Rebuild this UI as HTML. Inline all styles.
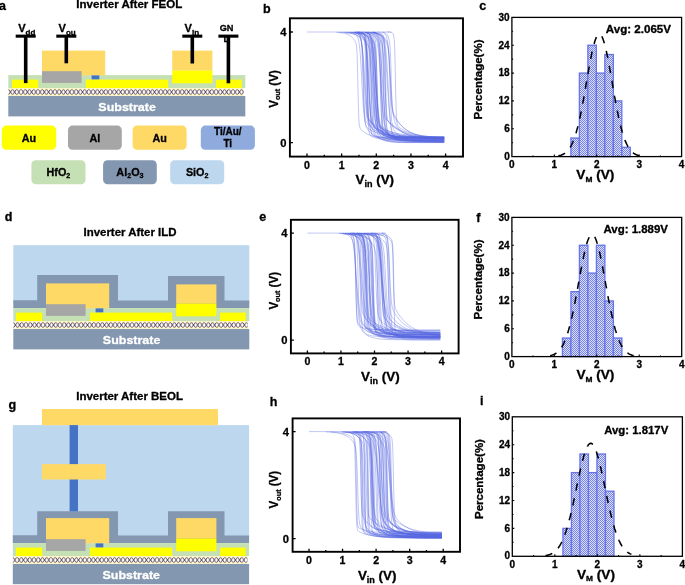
<!DOCTYPE html>
<html lang="en">
<head>
<meta charset="utf-8">
<title>Inverter after FEOL, ILD and BEOL</title>
<style>
html,body{margin:0;padding:0;background:#fff;}
body{width:685px;height:585px;overflow:hidden;}
svg{display:block;}
</style>
</head>
<body>
<svg width="685" height="585" viewBox="0 0 685 585" font-family="'Liberation Sans', Arial, sans-serif" font-weight="bold">
<style>text{stroke:#000;stroke-width:0.3px;stroke-linejoin:round}</style>
<defs>
<pattern id="xx" width="4.24" height="8" patternUnits="userSpaceOnUse"><rect width="4.24" height="8" fill="#fff"/><rect width="4.24" height="0.9" fill="#FBF6C8"/><rect y="7.2" width="4.24" height="0.8" fill="#FBF6C8"/><path d="M0.1 0.9 L4.14 7.1 M4.14 0.9 L0.1 7.1" stroke="#D2AE3A" stroke-width="0.95" fill="none"/><path d="M0.6 1.7 L3.64 6.3 M3.64 1.7 L0.6 6.3" stroke="#3B3585" stroke-width="0.8" fill="none"/></pattern>
<pattern id="hb" width="2" height="2" patternUnits="userSpaceOnUse"><rect width="2" height="2" fill="#dde1fc"/><rect width="1" height="1" fill="#7482ea"/><rect x="1" y="1" width="1" height="1" fill="#7482ea"/></pattern>
</defs>
<rect x="0" y="0" width="685" height="585" fill="#fff"/>
<text x="-1.2" y="10.2" font-size="13">a</text>
<text x="76.3" y="8.3" font-size="10.8" textLength="106" lengthAdjust="spacingAndGlyphs">Inverter After FEOL</text>
<rect x="8.3" y="75.1" width="237" height="12.9" fill="#C5E0B4"/>
<rect x="42" y="50.6" width="63.2" height="24.7" fill="#FFD966"/>
<rect x="42" y="71.2" width="39.6" height="11.7" fill="#A6A6A6"/>
<rect x="91.6" y="75.4" width="7.7" height="4.2" fill="#4472C4"/>
<rect x="12.1" y="79.6" width="26.1" height="8.4" fill="#FFFF00"/>
<rect x="85.9" y="79.6" width="82.3" height="8.4" fill="#FFFF00"/>
<rect x="216.1" y="79.6" width="25.5" height="8.4" fill="#FFFF00"/>
<rect x="172.2" y="50.6" width="40.2" height="20.1" fill="#FFD966"/>
<rect x="172.2" y="70.6" width="40.2" height="12.7" fill="#FFFF00"/>
<g transform="translate(8.3 88)">
<rect x="0" y="0" width="235.4" height="8" fill="url(#xx)"/>
</g>
<rect x="8.3" y="96" width="237" height="20.4" fill="#8497B0"/>
<text x="127.1" y="110.6" font-size="11.6" text-anchor="middle" textLength="57.5" lengthAdjust="spacingAndGlyphs" fill="#fff" style="stroke:#fff">Substrate</text>
<text x="18.2" y="32.1" font-size="11.1">V<tspan font-size="8" dy="3">dd</tspan></text>
<rect x="15.7" y="34.6" width="20" height="3.1" fill="#000"/>
<rect x="23.9" y="36" width="3.6" height="47.1" fill="#000"/>
<text x="58.5" y="32.1" font-size="11.1">V<tspan font-size="8" dy="3">ou</tspan></text>
<rect x="56.3" y="34.6" width="20" height="3.1" fill="#000"/>
<rect x="64.5" y="36" width="3.6" height="27.3" fill="#000"/>
<text x="184.6" y="32.1" font-size="11.1">V<tspan font-size="8" dy="3">in</tspan></text>
<rect x="182.3" y="34.6" width="20" height="3.1" fill="#000"/>
<rect x="190.5" y="36" width="3.6" height="27.5" fill="#000"/>
<text x="219.7" y="31.2" font-size="9.2">GN</text>
<text x="223.5" y="42.4" font-size="9.2">D</text>
<rect x="218.4" y="34.6" width="20" height="3.1" fill="#000"/>
<rect x="226.6" y="36" width="3.6" height="47.3" fill="#000"/>
<rect x="1.8" y="125.6" width="54.4" height="24.1" fill="#FFFF00" rx="4.5"/>
<text x="29" y="141.55" font-size="10.8" text-anchor="middle">Au</text>
<rect x="68" y="125.6" width="53.8" height="24.1" fill="#A6A6A6" rx="4.5"/>
<text x="94.9" y="141.55" font-size="10.8" text-anchor="middle">Al</text>
<rect x="132.6" y="125.6" width="54" height="24.1" fill="#FFD966" rx="4.5"/>
<text x="159.6" y="141.55" font-size="10.8" text-anchor="middle">Au</text>
<rect x="200.8" y="125.6" width="54.1" height="24.1" fill="#8FAADC" rx="4.5"/>
<text x="227.8" y="134.8" font-size="10" text-anchor="middle">Ti/Au/</text>
<text x="227.8" y="146.5" font-size="10" text-anchor="middle">Ti</text>
<rect x="31.4" y="160.3" width="54.1" height="24" fill="#C5E0B4" rx="4.5"/>
<text x="58.45" y="176.2" font-size="10.8" text-anchor="middle">HfO<tspan font-size="7.2" dy="2.2">2</tspan></text>
<rect x="103.1" y="160.3" width="53.7" height="24" fill="#8497B0" rx="4.5"/>
<text x="129.95" y="176.2" font-size="10.8" text-anchor="middle">Al<tspan font-size="7.2" dy="2.2">2</tspan><tspan dy="-2.2">O</tspan><tspan font-size="7.2" dy="2.2">3</tspan></text>
<rect x="170.2" y="160.3" width="54" height="24" fill="#BDD7EE" rx="4.5"/>
<text x="197.2" y="176.2" font-size="10.8" text-anchor="middle">SiO<tspan font-size="7.2" dy="2.2">2</tspan></text>
<text x="4.8" y="221" font-size="12.5">d</text>
<text x="83.5" y="236.2" font-size="10.8" textLength="93" lengthAdjust="spacingAndGlyphs">Inverter After ILD</text>
<rect x="13.3" y="245.2" width="236" height="57.8" fill="#BDD7EE"/>
<path d="M13.3 300.3 L37.2 300.3 L37.2 275 L118 275 L118 300.4 L168 300.4 L168 276.1 L224.5 276.1 L224.5 300.4 L249.3 300.4 L249.3 308.2 L13.3 308.2Z" fill="#8497B0"/>
<rect x="13.3" y="308.1" width="236" height="12.9" fill="#C5E0B4"/>
<rect x="46" y="283.4" width="63.2" height="24.9" fill="#FFD966"/>
<rect x="46" y="304.2" width="39.6" height="11.7" fill="#A6A6A6"/>
<rect x="95.6" y="308.4" width="7.7" height="4.2" fill="#4472C4"/>
<rect x="16.1" y="312.6" width="26.1" height="8.4" fill="#FFFF00"/>
<rect x="89.9" y="312.6" width="82.3" height="8.4" fill="#FFFF00"/>
<rect x="220.1" y="312.6" width="25.5" height="8.4" fill="#FFFF00"/>
<rect x="176.2" y="284.4" width="40.2" height="19.3" fill="#FFD966"/>
<rect x="176.2" y="303.6" width="40.2" height="12.7" fill="#FFFF00"/>
<g transform="translate(13.3 321)">
<rect x="0" y="0" width="234.4" height="8" fill="url(#xx)"/>
</g>
<rect x="13.3" y="329" width="236" height="20.4" fill="#8497B0"/>
<text x="131.6" y="343.6" font-size="11.6" text-anchor="middle" textLength="57.5" lengthAdjust="spacingAndGlyphs" fill="#fff" style="stroke:#fff">Substrate</text>
<text x="8.4" y="409" font-size="12.6">g</text>
<text x="76.2" y="400.1" font-size="10.8" textLength="106.8" lengthAdjust="spacingAndGlyphs">Inverter After BEOL</text>
<rect x="12.8" y="425.1" width="236.3" height="112.9" fill="#BDD7EE"/>
<path d="M12.8 535.3 L37.2 535.3 L37.2 511.2 L118 511.2 L118 535.4 L168 535.4 L168 511.2 L224.5 511.2 L224.5 535.4 L249.1 535.4 L249.1 543.2 L12.8 543.2Z" fill="#8497B0"/>
<rect x="12.8" y="543.1" width="236.3" height="12.9" fill="#C5E0B4"/>
<rect x="46" y="518.1" width="63.2" height="25.2" fill="#FFD966"/>
<rect x="46" y="539.2" width="39.6" height="11.7" fill="#A6A6A6"/>
<rect x="95.6" y="543.4" width="7.7" height="4.2" fill="#4472C4"/>
<rect x="16.1" y="547.6" width="26.1" height="8.4" fill="#FFFF00"/>
<rect x="89.9" y="547.6" width="82.3" height="8.4" fill="#FFFF00"/>
<rect x="220.1" y="547.6" width="25.5" height="8.4" fill="#FFFF00"/>
<rect x="176.2" y="518.1" width="40.2" height="20.6" fill="#FFD966"/>
<rect x="176.2" y="538.6" width="40.2" height="12.7" fill="#FFFF00"/>
<g transform="translate(12.8 556)">
<rect x="0" y="0" width="234.7" height="8" fill="url(#xx)"/>
</g>
<rect x="12.8" y="564" width="236.3" height="20.2" fill="#8497B0"/>
<text x="131.25" y="578.6" font-size="11.6" text-anchor="middle" textLength="57.5" lengthAdjust="spacingAndGlyphs" fill="#fff" style="stroke:#fff">Substrate</text>
<rect x="42" y="409" width="176" height="16.2" fill="#FFD966"/>
<rect x="69.6" y="425.1" width="8.4" height="86.2" fill="#4472C4"/>
<rect x="41.9" y="464.1" width="63.9" height="15.4" fill="#FFD966"/>
<path fill="none" stroke="#5566E0" stroke-width="0.37" d="M336.3 32.3l2 .2l2.1 .2l2.1 .3l2.1 .4l2.1 .6l2 .9l.6 .3l.4 .3l.4 .3l.5 .2l.4 .4l.4 .3l.5 .4l.4 .4l.4 .4l.5 .5l.4 .5l.4 .5l.5 .6l.4 .7l.4 .8l.5 1l.4 1.6l.4 3l.5 6.5l.4 13l.4 19.8l.5 19.4l.4 12.4l.4 6l.5 2.7l.4 1.2l.4 .8l.5 .5l.4 .4l.4 .4l.5 .4l.4 .4l.4 .3l.5 .4l.4 .3l.4 .3l.5 .3l.4 .2l.4 .3l.5 .3l.4 .2l.4 .3l1.8 .8l1.7 .7l1.7 .6l1.8 .6l1.7 .4l1.7 .4l1.8 .3l1.7 .3l1.7 .2l1.8 .2l1.7 .1l1.7 .2l1.8 .1l1.7 .1l1.7 .1l8.7 .2l8.6 .2l8.7 0l8.7 0l8.6 0l7.9 0M350.1 32.3l2.1 .4l1.2 .3l.4 .2l.4 .2l.5 .2l.4 .3l.4 .3l.5 .4l.4 .5l.4 .6l.5 .8l.4 1l.4 1.4l.5 1.7l.4 2.3l.4 2.9l.5 3.9l.4 5l.4 6.3l.5 7.3l.4 8.3l.4 8.6l.5 7.7l.4 7.3l.4 6.4l.5 5.4l.4 4.2l.4 3.3l.5 2.6l.4 2l.4 1.5l.5 1.2l.4 1l.4 .8l.5 .8l.4 .6l.4 .6l.5 .5l.4 .5l.4 .4l.5 .5l.4 .4l.4 .3l1.8 1.4l1.7 1.2l1.7 1l1.8 .8l1.7 .8l1.7 .6l1.8 .5l1.7 .4l1.7 .4l1.8 .3l1.7 .3l1.7 .2l1.8 .2l1.7 .2l1.7 .2l8.7 .4l8.6 .2l8.7 .1l8.7 0l8.6 .1l3.8 0M354.4 32.0l.4 0l.5 0l.4 0l.4 0l.5 .1l.4 0l.4 0l.5 .1l.4 .1l.4 .2l.5 .2l.4 .5l.4 .8l.5 1.4l.4 2.3l.4 3.8l.5 6.2l.4 9.1l.4 12.3l.5 14.1l.4 12.5l.4 10.7l.5 7.8l.4 5.2l.4 3.3l.5 2l.4 1.3l.4 .9l.5 .6l.4 .4l.4 .4l.5 .3l.4 .3l.4 .3l.5 .3l.4 .2l.4 .2l.5 .3l.4 .2l.4 .2l.5 .2l1.7 .7l1.7 .7l1.8 .6l1.7 .5l1.7 .4l1.8 .4l1.7 .3l1.7 .3l1.8 .3l1.7 .2l1.7 .2l1.8 .2l1.7 .1l1.7 .1l1.8 .2l8.6 .3l8.7 .2l8.6 .1l8.7 .1l8.7 0l2.7 0M343.5 32.3l2.1 .2l2 .2l2.1 .3l2.1 .4l2.1 .7l.9 .3l.4 .2l.5 .2l.4 .3l.4 .2l.5 .3l.4 .2l.4 .3l.5 .4l.4 .3l.4 .4l.5 .4l.4 .5l.4 .6l.5 .7l.4 1.1l.4 1.8l.5 3.5l.4 6.7l.4 11.8l.5 16.2l.4 16.2l.4 11.7l.5 6.7l.4 3.4l.4 1.9l.5 1.1l.4 .8l.4 .6l.5 .6l.4 .5l.4 .5l.5 .5l.4 .5l.4 .4l.5 .4l.4 .4l.4 .4l.5 .4l.4 .4l.4 .3l.5 .4l1.7 1.2l1.7 1l1.7 .9l1.8 .8l1.7 .7l1.7 .5l1.8 .5l1.7 .4l1.7 .4l1.8 .3l1.7 .3l1.7 .2l1.8 .2l1.7 .2l1.7 .1l8.7 .5l8.7 .2l8.6 .1l8.7 0l8.7 .1l2.3 0M353.8 32.3l1.9 .4l.5 .1l.4 .1l.4 .2l.5 .2l.4 .3l.4 .3l.5 .4l.4 .5l.4 .6l.5 .9l.4 1.1l.4 1.5l.5 2.1l.4 2.7l.4 3.7l.4 4.9l.5 6.1l.4 7.4l.4 8.5l.5 8.8l.4 8.1l.4 7.4l.5 6.5l.4 5.2l.4 4l.5 3l.4 2.3l.4 1.6l.5 1.2l.4 .9l.4 .7l.5 .6l.4 .4l.4 .4l.5 .4l.4 .3l.4 .3l.5 .3l.4 .2l.4 .3l.5 .2l1.7 .9l1.7 .8l1.8 .8l1.7 .6l1.7 .7l1.8 .5l1.7 .6l1.7 .4l1.8 .5l1.7 .4l1.7 .4l1.8 .3l1.7 .3l1.7 .3l1.8 .3l8.6 1l8.7 .6l8.7 .4l8.6 .3l8.7 .2l1.4 0M356.8 33.0l.5 .3l.4 .3l.4 .4l.5 .5l.4 .7l.4 .8l.5 1l.4 1.2l.4 1.5l.5 1.9l.4 2.3l.4 2.7l.5 3.3l.4 3.9l.4 4.5l.5 5.2l.4 5.9l.4 6.5l.5 7.1l.4 7.6l.4 5l.5 4.9l.4 4.7l.4 4.4l.5 4l.4 3.6l.4 3.1l.5 2.7l.4 2.4l.4 2l.5 1.6l.4 1.4l.4 1.2l.5 1l.4 .8l.4 .7l.5 .5l.4 .5l.4 .4l.5 .3l.4 .3l1.7 .8l1.8 .4l1.7 .3l1.7 .2l1.8 .1l1.7 .1l1.7 .1l1.8 .1l1.7 0l1.7 0l1.8 .1l1.7 0l1.7 0l1.8 0l1.7 0l8.6 .1l8.7 0l8.7 0l8.6 0l8.7 0l.3 0M357.1 32.0l.4 0l.5 0l.4 0l.4 0l.5 0l.4 .1l.4 0l.5 0l.4 .1l.4 .1l.5 .1l.4 .1l.4 .2l.5 .4l.4 .5l.4 .8l.5 1.9l.4 4.8l.4 12.6l.5 23.4l.4 22.3l.4 11.6l.5 4.4l.4 1.8l.4 1.1l.5 .7l.4 .8l.4 .6l.5 .7l.4 .6l.4 .6l.5 .6l.4 .5l.4 .6l.5 .5l.4 .5l.4 .5l.5 .4l.4 .5l.4 .4l.5 .4l1.7 1.5l1.7 1.4l1.8 1.1l1.7 1l1.7 .8l1.8 .7l1.7 .6l1.7 .6l1.8 .5l1.7 .4l1.7 .3l1.8 .3l1.7 .3l1.7 .2l1.7 .2l8.7 .6l8.7 .3l8.6 .2l8.7 0l8.7 .1M358.0 32.0l.4 .1l.5 0l.4 0l.4 0l.5 .1l.4 0l.4 .1l.5 .1l.4 .1l.4 .2l.5 .2l.4 .3l.4 .4l.5 .5l.4 .7l.4 1.2l.5 2.3l.4 5.2l.4 13.1l.5 23.9l.4 22.2l.4 11.2l.5 4l.4 1.4l.4 .7l.5 .4l.4 .4l.4 .4l.5 .4l.4 .3l.4 .4l.5 .3l.4 .3l.4 .3l.5 .4l.4 .3l.4 .3l.5 .3l.4 .2l.4 .3l.5 .3l1.7 1l1.7 1l1.8 .8l1.7 .8l1.7 .7l1.8 .7l1.7 .6l1.7 .6l1.8 .5l1.7 .4l1.7 .4l1.7 .4l1.8 .4l1.7 .3l1.7 .3l8.7 1.1l8.7 .8l8.6 .4l8.7 .3l7.8 .2M351.6 32.3l2.1 .2l2.1 .3l2.1 .5l.7 .3l.5 .1l.4 .2l.4 .2l.5 .2l.4 .3l.4 .2l.5 .3l.4 .3l.4 .4l.5 .3l.4 .5l.4 .4l.5 .5l.4 .6l.4 .7l.5 .9l.4 1.7l.4 4.2l.5 11.5l.4 22.6l.4 22.3l.5 11.3l.4 4.1l.4 1.5l.5 .9l.4 .7l.4 .6l.5 .6l.4 .5l.4 .6l.5 .5l.4 .5l.4 .5l.5 .4l.4 .5l.4 .4l.5 .4l.4 .4l.4 .4l.5 .4l.4 .4l1.7 1.3l1.8 1.2l1.7 1.1l1.7 .9l1.8 .8l1.7 .7l1.7 .6l1.8 .5l1.7 .5l1.7 .4l1.8 .3l1.7 .4l1.7 .2l1.8 .3l1.7 .2l8.7 .7l8.6 .3l8.7 .2l8.6 .1l7.2 .1M354.8 32.3l2.1 .3l1.9 .5l.4 .1l.5 .2l.4 .2l.4 .2l.5 .3l.4 .3l.4 .3l.5 .3l.4 .5l.4 .4l.5 .6l.4 .6l.4 .8l.5 .9l.4 1.3l.4 2.1l.5 3.8l.4 7.6l.4 14.4l.5 21.2l.4 20.3l.4 13.4l.5 6.7l.4 3l.4 1.4l.5 .8l.4 .5l.4 .4l.4 .3l.5 .3l.4 .3l.4 .2l.5 .2l.4 .2l.4 .2l.5 .2l.4 .1l.4 .2l.5 .1l.4 .1l.4 .1l1.8 .4l1.7 .3l1.7 .2l1.8 .1l1.7 .1l1.7 0l1.8 .1l1.7 0l1.7 .1l1.8 0l1.7 0l1.7 0l1.8 0l1.7 0l1.7 0l8.7 0l8.7 0l8.6 0l8.7 0l7 0M355.9 32.3l2.1 .4l1.1 .3l.4 .2l.4 .2l.5 .2l.4 .2l.4 .3l.5 .4l.4 .4l.4 .5l.5 .6l.4 .6l.4 .8l.5 .9l.4 1l.4 1.3l.5 1.6l.4 2.1l.4 3.6l.5 6.6l.4 13.1l.4 19.8l.5 18.2l.4 11.1l.4 5l.5 2.3l.4 1.2l.4 .8l.5 .7l.4 .7l.4 .6l.5 .5l.4 .6l.4 .5l.5 .5l.4 .5l.4 .5l.5 .4l.4 .4l.4 .4l.5 .4l.4 .4l.4 .3l1.8 1.3l1.7 1.1l1.7 .9l1.7 .8l1.8 .6l1.7 .6l1.7 .4l1.8 .4l1.7 .4l1.7 .2l1.8 .3l1.7 .2l1.7 .1l1.8 .2l1.7 .1l8.7 .3l8.6 .2l8.7 .1l8.7 0l6.7 0M350.3 32.3l2.1 .2l2.1 .3l2.1 .5l2 .7l1.4 .7l.4 .3l.5 .3l.4 .3l.4 .3l.5 .4l.4 .5l.4 .5l.5 .5l.4 .6l.4 .7l.5 .9l.4 1l.4 1.4l.5 1.8l.4 2.6l.4 3.8l.5 5.3l.4 7.5l.4 9.5l.5 10.7l.4 10.2l.4 9l.5 6.9l.4 5l.4 3.3l.5 2.3l.4 1.7l.4 1.2l.5 .9l.4 .8l.4 .8l.5 .6l.4 .6l.4 .6l.5 .5l.4 .5l.4 .5l.5 .5l.4 .4l.4 .5l.5 .4l1.7 1.5l1.7 1.3l1.8 1.1l1.7 1l1.7 .8l1.8 .7l1.7 .6l1.7 .5l1.8 .4l1.7 .4l1.7 .3l1.8 .3l1.7 .2l1.7 .2l1.8 .2l8.6 .5l8.7 .3l8.6 .1l8.7 0l5.8 .1M346.1 32.3l2.1 .2l2.1 .1l2.1 .3l2.1 .3l2 .5l2.1 .7l1.6 .7l.4 .3l.4 .3l.5 .3l.4 .4l.4 .5l.4 .6l.5 .7l.4 .9l.4 1.1l.5 1.4l.4 1.7l.4 2.2l.5 2.8l.4 3.4l.4 4.2l.5 5.1l.4 5.9l.4 6.6l.5 7.2l.4 7.5l.4 7.2l.5 6.9l.4 6.3l.4 5.6l.5 4.6l.4 3.9l.4 3.1l.5 2.4l.4 1.9l.4 1.5l.5 1.1l.4 .9l.4 .7l.5 .5l.4 .4l.4 .3l.5 .3l.4 .2l.4 .1l.5 .2l.4 .1l1.7 .4l1.8 .2l1.7 .1l1.7 .2l1.8 0l1.7 .1l1.7 .1l1.8 0l1.7 0l1.7 0l1.8 .1l1.7 0l1.7 0l1.8 0l1.7 0l8.7 0l8.6 0l8.7 0l8.6 0l5.7 0M360.2 32.3l.4 0l.4 .1l.5 .1l.4 .1l.4 .1l.5 .1l.4 .2l.4 .3l.5 .4l.4 .5l.4 .7l.5 1.1l.4 1.4l.4 2.2l.5 3.1l.4 4.3l.4 6l.5 7.7l.4 9.2l.4 10l.5 9.7l.4 8.9l.4 7.4l.5 5.8l.4 4.3l.4 3.1l.5 2.3l.4 1.7l.4 1.3l.5 1l.4 .9l.4 .7l.5 .6l.4 .6l.4 .5l.5 .5l.4 .5l.4 .4l.5 .5l.4 .4l.4 .3l1.8 1.4l1.7 1.2l1.7 1l1.8 .9l1.7 .7l1.7 .6l1.8 .6l1.7 .4l1.7 .4l1.8 .3l1.7 .3l1.7 .2l1.8 .2l1.7 .2l1.7 .2l8.7 .4l8.7 .2l8.6 .1l8.7 .1l5.6 0M361.3 32.0l.5 0l.4 0l.4 0l.5 0l.4 .1l.4 0l.5 0l.4 .1l.4 .1l.5 .1l.4 .2l.4 .3l.5 .4l.4 .6l.4 1.1l.5 1.8l.4 3.4l.4 7.7l.4 17.1l.5 28.5l.4 23.3l.4 12.1l.5 4.2l.4 1.4l.4 .5l.5 .2l.4 .2l.4 .2l.5 .1l.4 .1l.4 .1l.5 .2l.4 .1l.4 .1l.5 .1l.4 .1l.4 .1l.5 .1l.4 0l.4 .1l.5 .1l1.7 .3l1.7 .2l1.8 .3l1.7 .1l1.7 .2l1.8 .1l1.7 .1l1.7 .1l1.8 .1l1.7 .1l1.7 0l1.8 .1l1.7 0l1.7 0l1.8 .1l8.6 0l8.7 .1l8.7 0l8.6 0l4.5 0M356.5 32.3l2.1 .3l2.1 .4l1.8 .6l.4 .2l.5 .2l.4 .2l.4 .3l.5 .3l.4 .3l.4 .4l.5 .4l.4 .5l.4 .5l.5 .6l.4 .7l.4 .8l.5 .9l.4 1.2l.4 1.7l.5 3.2l.4 6.5l.4 12.6l.5 19.1l.4 18.4l.4 11.8l.5 5.7l.4 2.5l.4 1.3l.5 .8l.4 .6l.4 .5l.5 .5l.4 .5l.4 .4l.5 .4l.4 .5l.4 .4l.5 .3l.4 .4l.4 .4l.5 .3l.4 .3l.4 .3l1.8 1.2l1.7 1l1.7 .8l1.7 .8l1.8 .6l1.7 .5l1.7 .5l1.8 .4l1.7 .3l1.7 .3l1.8 .2l1.7 .2l1.7 .2l1.8 .2l1.7 .1l1.7 .1l8.7 .4l8.7 .2l8.6 .1l8.7 0l2 0M339.1 32.3l2 .1l2.1 .2l2.1 .1l2.1 .3l2 .3l2.1 .3l2.1 .5l2.1 .7l2.1 .8l2 1.1l2.1 1.5l.7 .5l.4 .4l.4 .4l.5 .4l.4 .4l.4 .5l.5 .5l.4 .5l.4 .6l.5 .6l.4 .6l.4 .7l.5 .7l.4 .8l.4 .8l.5 1.1l.4 1.7l.4 2.9l.5 5.9l.4 11.3l.4 16.9l.5 16.8l.4 11.1l.4 5.7l.5 2.7l.4 1.5l.4 .9l.5 .8l.4 .6l.4 .7l.5 .5l.4 .6l.4 .5l.5 .5l.4 .5l.4 .4l.5 .5l.4 .4l.4 .4l.5 .4l.4 .3l1.7 1.4l1.8 1.1l1.7 .9l1.7 .8l1.8 .6l1.7 .6l1.7 .4l1.8 .4l1.7 .3l1.7 .3l1.7 .2l1.8 .2l1.7 .2l1.7 .1l1.8 .1l1.7 .1l8.7 .3l8.6 .1l8.7 .1l8.7 0l1.9 0M356.7 32.3l2.1 .3l2.1 .4l2 .8l.2 .1l.5 .3l.4 .3l.4 .4l.5 .5l.4 .5l.4 .6l.5 .8l.4 1l.4 1.2l.4 1.5l.5 1.8l.4 2.3l.4 2.7l.5 3.4l.4 4.1l.4 4.7l.5 5.4l.4 6l.4 6.4l.5 6.5l.4 6l.4 5.9l.5 5.5l.4 4.9l.4 4.3l.5 3.7l.4 3l.4 2.5l.5 2.1l.4 1.7l.4 1.4l.5 1.2l.4 .9l.4 .9l.5 .7l.4 .6l.4 .5l.5 .5l.4 .4l.4 .4l1.8 1.2l1.7 1l1.7 .7l1.8 .6l1.7 .4l1.7 .4l1.8 .3l1.7 .3l1.7 .1l1.8 .2l1.7 .1l1.7 .1l1.8 .1l1.7 .1l1.7 0l1.8 0l8.6 .1l8.7 .1l8.7 0l8.6 0l1.4 0M357.3 32.3l2.1 .3l2 .4l2.1 .7l.7 .3l.4 .2l.4 .2l.5 .3l.4 .4l.4 .3l.5 .4l.4 .5l.4 .5l.5 .6l.4 .6l.4 .7l.5 .8l.4 1l.4 1.2l.5 1.6l.4 2.4l.4 4.2l.5 7.7l.4 13.6l.4 18.8l.5 18.1l.4 12.6l.4 6.9l.4 3.5l.5 1.8l.4 1l.4 .8l.5 .6l.4 .5l.4 .5l.5 .4l.4 .4l.4 .4l.5 .4l.4 .3l.4 .3l.5 .3l.4 .2l.4 .3l.5 .2l1.7 .8l1.7 .5l1.8 .5l1.7 .3l1.7 .2l1.8 .2l1.7 .1l1.7 .1l1.8 .1l1.7 .1l1.7 0l1.8 0l1.7 .1l1.7 0l1.8 0l1.7 0l8.7 0l8.6 0l8.7 0l8.6 0l.4 0M358.6 32.3l2.1 .2l2.1 .4l1.6 .5l.4 .2l.5 .2l.4 .3l.4 .3l.5 .5l.4 .5l.4 .7l.5 .8l.4 1.1l.4 1.4l.5 1.8l.4 2.3l.4 2.8l.5 3.5l.4 4.2l.4 5.1l.5 5.9l.4 6.6l.4 7.2l.5 7.4l.4 7.3l.4 7.2l.5 6.6l.4 5.9l.4 5.1l.5 4.2l.4 3.5l.4 2.9l.4 2.3l.5 1.7l.4 1.5l.4 1.1l.5 .9l.4 .7l.4 .5l.5 .5l.4 .4l.4 .3l.5 .2l.4 .2l1.7 .6l1.8 .4l1.7 .2l1.7 .2l1.8 .1l1.7 .1l1.7 .1l1.8 0l1.7 .1l1.7 0l1.8 0l1.7 0l1.7 0l1.8 0l1.7 0l1.7 0l8.7 0l8.7 0l8.6 0l8.7 0l.1 0M354.0 32.3l2 .2l2.1 .3l2.1 .3l2.1 .6l2.1 .9l.8 .5l.4 .2l.5 .3l.4 .4l.4 .3l.5 .4l.4 .4l.4 .5l.5 .5l.4 .5l.4 .6l.5 .7l.4 .7l.4 .9l.5 1l.4 1.3l.4 2.1l.5 3.7l.4 6.9l.4 12.3l.5 17.2l.4 16.6l.4 11.6l.5 6.2l.4 3l.4 1.6l.5 .9l.4 .7l.4 .5l.4 .5l.5 .4l.4 .5l.4 .4l.5 .4l.4 .4l.4 .3l.5 .4l.4 .3l.4 .4l.5 .3l.4 .3l1.7 1.2l1.8 1.1l1.7 .9l1.7 .8l1.8 .7l1.7 .6l1.7 .6l1.8 .4l1.7 .5l1.7 .3l1.8 .4l1.7 .3l1.7 .2l1.8 .2l1.7 .2l1.7 .2l8.7 .6l8.7 .3l8.6 .2l8 .1M365.4 32.2l.4 .1l.5 .1l.4 .1l.4 .2l.5 .3l.4 .3l.4 .5l.5 .6l.4 .9l.4 1.2l.5 1.5l.4 2l.4 2.6l.5 3.3l.4 4.2l.4 5.1l.5 6.1l.4 6.9l.4 7.6l.5 8l.4 6l.4 5.9l.5 5.3l.4 4.9l.4 4.1l.5 3.5l.4 2.9l.4 2.4l.5 1.9l.4 1.5l.4 1.2l.5 1.1l.4 .8l.4 .7l.5 .6l.4 .6l.4 .4l.5 .4l.4 .4l.4 .4l1.8 1.2l1.7 .9l1.7 .9l1.8 .7l1.7 .7l1.7 .5l1.8 .5l1.7 .5l1.7 .4l1.8 .3l1.7 .3l1.7 .3l1.8 .2l1.7 .3l1.7 .1l1.8 .2l8.6 .6l8.7 .3l8.6 .2l7.8 .1M365.4 32.1l.5 .1l.4 .1l.4 .1l.5 .1l.4 .2l.4 .3l.5 .4l.4 .5l.4 .8l.5 1l.4 1.4l.4 1.9l.5 2.5l.4 3.4l.4 4.4l.5 5.5l.4 6.7l.4 7.9l.5 8.8l.4 9.1l.4 7.5l.5 7.1l.4 6.4l.4 5.4l.5 4.5l.4 3.6l.4 2.8l.5 2.2l.4 1.6l.4 1.3l.5 .9l.4 .8l.4 .6l.5 .5l.4 .4l.4 .3l.5 .3l.4 .2l.4 .3l.5 .2l1.7 .7l1.7 .5l1.8 .5l1.7 .4l1.7 .4l1.8 .3l1.7 .3l1.7 .3l1.8 .2l1.7 .2l1.7 .1l1.8 .2l1.7 .1l1.7 .1l1.8 .1l1.7 .1l8.6 .2l8.7 .2l8.7 .1l7.7 0M364.7 32.3l1.2 .2l.5 .1l.4 0l.4 .1l.5 .2l.4 .1l.4 .1l.5 .2l.4 .3l.4 .3l.5 .4l.4 .5l.4 .8l.5 1.1l.4 1.7l.4 2.6l.5 3.9l.4 5.9l.4 8.2l.5 10.4l.4 11.9l.4 11.5l.5 10.1l.4 7.9l.4 5.5l.5 3.8l.4 2.4l.4 1.6l.5 1.1l.4 .8l.4 .6l.5 .5l.4 .4l.4 .4l.4 .3l.5 .3l.4 .3l.4 .3l.5 .3l.4 .3l.4 .2l1.8 1l1.7 .8l1.7 .8l1.8 .7l1.7 .6l1.7 .5l1.8 .5l1.7 .4l1.7 .4l1.8 .4l1.7 .3l1.7 .2l1.8 .3l1.7 .2l1.7 .2l1.8 .2l8.6 .6l8.7 .3l8.7 .2l7.2 .1M367.0 32.6l.4 .1l.5 .3l.4 .2l.4 .4l.5 .4l.4 .6l.4 .7l.5 1l.4 1.2l.4 1.5l.5 1.8l.4 2.3l.4 2.8l.5 3.4l.4 4l.4 4.6l.5 5.3l.4 5.8l.4 6.2l.5 6.5l.4 5.7l.4 5.5l.5 5.3l.4 4.9l.4 4.5l.5 3.9l.4 3.4l.4 2.9l.5 2.5l.4 2.1l.4 1.8l.5 1.4l.4 1.3l.4 1l.5 .9l.4 .8l.4 .6l.5 .6l.4 .5l.4 .4l1.8 1.4l1.7 1l1.7 .8l1.8 .7l1.7 .5l1.7 .5l1.8 .4l1.7 .3l1.7 .3l1.8 .2l1.7 .2l1.7 .2l1.7 .2l1.8 .1l1.7 .1l1.7 .1l8.7 .3l8.7 .1l8.6 .1l6.2 0M367.0 32.2l.5 0l.4 .1l.4 0l.5 .1l.4 .1l.4 .1l.5 .1l.4 .2l.4 .2l.5 .3l.4 .3l.4 .5l.5 .6l.4 1l.4 1.7l.5 2.8l.4 5l.4 8.6l.5 13.1l.4 16.6l.4 16.4l.5 12.9l.4 8.5l.4 5l.5 3l.4 1.8l.4 1.3l.5 .9l.4 .8l.4 .7l.5 .6l.4 .6l.4 .5l.5 .5l.4 .4l.4 .4l.5 .3l.4 .4l.4 .3l.5 .3l1.7 .9l1.7 .7l1.8 .5l1.7 .4l1.7 .2l1.8 .2l1.7 .2l1.7 .1l1.7 0l1.8 .1l1.7 0l1.7 .1l1.8 0l1.7 0l1.7 0l1.8 0l8.6 0l8.7 0l8.7 0l6.1 0M365.6 32.5l1.5 .4l.4 .2l.5 .3l.4 .3l.4 .4l.4 .6l.5 .6l.4 .9l.4 1l.5 1.3l.4 1.6l.4 2l.5 2.5l.4 3.1l.4 3.6l.5 4.3l.4 5l.4 5.6l.5 6.1l.4 6.4l.4 6.5l.5 6l.4 5.9l.4 5.7l.5 5.2l.4 4.7l.4 4.2l.5 3.5l.4 3.1l.4 2.5l.5 2.2l.4 1.7l.4 1.5l.5 1.3l.4 1l.4 .9l.5 .7l.4 .6l.4 .6l.5 .4l.4 .4l1.7 1.2l1.8 .7l1.7 .4l1.7 .3l1.8 .2l1.7 .1l1.7 .1l1.8 .1l1.7 0l1.7 .1l1.8 0l1.7 0l1.7 0l1.8 0l1.7 0l1.7 0l8.7 0l8.7 0l8.6 0l6.1 0M365.2 32.3l1.9 .4l.4 .1l.5 .2l.4 .2l.4 .2l.5 .2l.4 .3l.4 .4l.5 .4l.4 .5l.4 .6l.5 .7l.4 .9l.4 1l.5 1.1l.4 1.5l.4 2l.5 3l.4 5.8l.4 12.9l.5 22l.4 20l.4 10.6l.5 4l.4 1.6l.4 .9l.5 .6l.4 .6l.4 .5l.5 .6l.4 .5l.4 .5l.5 .4l.4 .5l.4 .4l.5 .4l.4 .4l.4 .4l.5 .4l.4 .4l.4 .3l1.8 1.3l1.7 1.2l1.7 .9l1.8 .9l1.7 .7l1.7 .7l1.7 .5l1.8 .5l1.7 .4l1.7 .4l1.8 .3l1.7 .3l1.7 .2l1.8 .2l1.7 .2l8.7 .6l8.6 .3l8.7 .2l7.8 0M365.3 32.4l2 .5l.6 .3l.5 .2l.4 .3l.4 .4l.5 .4l.4 .6l.4 .7l.5 .9l.4 1.1l.4 1.4l.5 1.8l.4 2.1l.4 2.7l.5 3.4l.4 4l.4 4.7l.5 5.6l.4 6.2l.4 6.9l.5 7.3l.4 7.4l.4 5.9l.5 5.7l.4 5.3l.4 4.8l.5 4.1l.4 3.5l.4 2.8l.5 2.4l.4 1.9l.4 1.5l.5 1.2l.4 .9l.4 .8l.5 .6l.4 .5l.4 .4l.5 .4l.4 .2l.4 .3l.5 .2l1.7 .7l1.7 .5l1.8 .4l1.7 .3l1.7 .3l1.8 .3l1.7 .2l1.7 .3l1.8 .1l1.7 .2l1.7 .1l1.8 .2l1.7 .1l1.7 .1l1.8 0l8.6 .3l8.7 .2l8.6 .1l7 0M356.1 32.3l2.1 .2l2 .3l2.1 .4l2.1 .5l2.1 .9l1.7 1.1l.4 .3l.5 .4l.4 .4l.4 .4l.5 .5l.4 .5l.4 .6l.4 .6l.5 .6l.4 .8l.4 .8l.5 .9l.4 1.1l.4 1.3l.5 1.7l.4 2.7l.4 4.6l.5 8l.4 13.2l.4 17.4l.5 16.5l.4 11.8l.4 6.8l.5 3.3l.4 1.7l.4 .8l.5 .5l.4 .3l.4 .2l.5 .2l.4 .2l.4 .1l.5 .2l.4 .1l.4 .2l.5 .1l.4 .1l.4 .1l.5 .2l.4 .1l1.7 .3l1.8 .3l1.7 .3l1.7 .2l1.8 .2l1.7 .1l1.7 .1l1.8 .1l1.7 .1l1.7 0l1.8 .1l1.7 0l1.7 0l1.8 .1l1.7 0l8.7 0l8.6 .1l8.7 0l6.7 0M367.4 32.3l.9 .1l.4 .1l.4 .1l.5 .1l.4 .1l.4 .1l.5 .1l.4 .2l.4 .2l.5 .2l.4 .3l.4 .3l.5 .4l.4 .4l.4 .7l.5 1.1l.4 1.9l.4 3.8l.5 7.3l.4 13.1l.4 18.2l.5 17.8l.4 12.6l.4 6.9l.5 3.4l.4 1.7l.4 .9l.5 .6l.4 .5l.4 .3l.5 .4l.4 .3l.4 .3l.5 .4l.4 .3l.4 .2l.5 .3l.4 .3l.4 .3l.5 .2l.4 .3l1.7 1l1.8 .8l1.7 .8l1.7 .7l1.8 .6l1.7 .5l1.7 .5l1.8 .5l1.7 .4l1.7 .3l1.8 .3l1.7 .3l1.7 .3l1.8 .2l1.7 .2l8.7 .8l8.6 .4l8.7 .2l6.6 .2M346.9 32.3l2.1 .1l2.1 .2l2 .1l2.1 .2l2.1 .3l2.1 .4l2.1 .4l2 .6l2.1 .8l2.1 1l.9 .5l.4 .3l.5 .3l.4 .3l.4 .3l.5 .3l.4 .4l.4 .4l.5 .4l.4 .4l.4 .5l.5 .5l.4 .7l.4 .8l.5 1.2l.4 1.8l.4 2.9l.5 4.8l.4 7.6l.4 11l.5 13.4l.4 13.4l.4 11.1l.5 7.7l.4 4.8l.4 3l.5 1.8l.4 1.2l.4 .9l.5 .7l.4 .5l.4 .5l.5 .5l.4 .4l.4 .3l.5 .4l.4 .3l.4 .3l.5 .3l.4 .3l.4 .2l1.8 .9l1.7 .6l1.7 .5l1.8 .4l1.7 .3l1.7 .3l1.8 .1l1.7 .2l1.7 .1l1.8 .1l1.7 0l1.7 .1l1.8 0l1.7 0l1.7 .1l8.7 0l8.6 0l8.7 0l6.3 0M358.3 32.3l2.1 .2l2.1 .2l2 .2l2.1 .4l2.1 .5l2.1 .7l.8 .4l.5 .2l.4 .2l.4 .2l.5 .3l.4 .3l.4 .3l.5 .3l.4 .3l.4 .4l.5 .4l.4 .4l.4 .5l.5 .6l.4 .8l.4 1.1l.5 1.9l.4 3.7l.4 6.9l.5 11.9l.4 16.4l.4 16.8l.5 12.5l.4 7.6l.4 4.2l.5 2.5l.4 1.6l.4 1.2l.5 .9l.4 .9l.4 .8l.5 .7l.4 .6l.4 .6l.5 .6l.4 .5l.4 .5l.5 .4l.4 .4l.4 .4l.5 .4l1.7 1.1l1.7 .9l1.8 .6l1.7 .5l1.7 .4l1.8 .2l1.7 .2l1.7 .2l1.7 .1l1.8 .1l1.7 0l1.7 .1l1.8 0l1.7 0l1.7 0l8.7 .1l8.7 0l8.6 0l3.3 0M372.2 32.1l.4 0l.5 0l.4 0l.4 .1l.5 0l.4 .1l.4 .1l.5 .1l.4 .2l.4 .2l.5 .3l.4 .5l.4 .6l.5 1l.4 1.6l.4 2.8l.5 5.3l.4 9.6l.4 15.8l.5 20.8l.4 18.2l.4 13l.5 7.3l.4 3.5l.4 1.6l.5 .8l.4 .4l.4 .2l.5 .1l.4 .2l.4 .1l.5 .1l.4 .1l.4 .1l.5 .1l.4 .1l.4 0l.5 .1l.4 .1l.4 .1l1.8 .3l1.7 .2l1.7 .3l1.8 .2l1.7 .1l1.7 .2l1.8 .1l1.7 .2l1.7 .1l1.8 .1l1.7 .1l1.7 0l1.8 .1l1.7 .1l1.7 0l8.7 .2l8.6 .1l8.7 0l2.7 .1M372.4 32.8l.2 .1l.4 .2l.4 .3l.5 .4l.4 .5l.4 .6l.5 .7l.4 1l.4 1.2l.5 1.5l.4 1.8l.4 2.3l.5 2.8l.4 3.4l.4 4l.5 4.7l.4 5.4l.4 6l.5 6.5l.4 6.9l.4 7l.5 5.4l.4 5.4l.4 5l.5 4.6l.4 4.1l.4 3.7l.5 3.1l.4 2.6l.4 2.2l.5 1.8l.4 1.5l.4 1.2l.5 1.1l.4 .8l.4 .7l.5 .6l.4 .5l.4 .5l.5 .4l.4 .3l1.7 1l1.8 .8l1.7 .6l1.7 .5l1.8 .4l1.7 .4l1.7 .4l1.8 .3l1.7 .3l1.7 .2l1.8 .2l1.7 .2l1.7 .2l1.8 .1l1.7 .1l8.7 .5l8.6 .2l8.7 .2l2.3 0M372.8 32.4l.4 .1l.4 .2l.5 .2l.4 .2l.4 .3l.5 .4l.4 .6l.4 .7l.5 1l.4 1.3l.4 1.7l.5 2.2l.4 2.9l.4 3.7l.5 4.6l.4 5.7l.4 6.7l.5 7.7l.4 8.4l.4 8.6l.5 6.9l.4 6.6l.4 6.1l.5 5.2l.4 4.4l.4 3.6l.5 2.8l.4 2.3l.4 1.7l.5 1.4l.4 1l.4 .9l.5 .7l.4 .5l.4 .4l.5 .4l.4 .3l.4 .3l.5 .2l.4 .2l1.7 .7l1.8 .4l1.7 .3l1.7 .2l1.8 .2l1.7 .1l1.7 .1l1.8 0l1.7 .1l1.7 0l1.7 0l1.8 .1l1.7 0l1.7 0l1.8 0l8.6 0l8.7 0l8.7 0l2.1 0M369.7 32.3l2.1 .3l1.4 .3l.4 .1l.4 .1l.5 .2l.4 .1l.4 .2l.5 .2l.4 .2l.4 .3l.5 .3l.4 .3l.4 .4l.5 .4l.4 .5l.4 .6l.5 .7l.4 1.1l.4 2.1l.5 5.3l.4 14.1l.4 26.6l.5 26.2l.4 13.5l.4 4.9l.5 1.8l.4 .8l.4 .5l.5 .4l.4 .4l.4 .4l.5 .3l.4 .3l.4 .3l.5 .3l.4 .3l.4 .2l.5 .2l.4 .3l.4 .2l.5 .2l.4 .2l1.7 .6l1.8 .5l1.7 .4l1.7 .3l1.8 .3l1.7 .2l1.7 .1l1.8 .2l1.7 .1l1.7 0l1.8 .1l1.7 .1l1.7 0l1.8 0l1.7 0l8.7 .1l8.6 0l8.7 0l1.7 0M374.2 32.6l.4 .2l.4 .2l.5 .3l.4 .4l.4 .5l.5 .6l.4 .8l.4 1l.5 1.2l.4 1.6l.4 2l.4 2.5l.5 3.1l.4 3.7l.4 4.4l.5 5.1l.4 5.8l.4 6.4l.5 6.8l.4 7l.4 6.3l.5 6.1l.4 5.8l.4 5.3l.5 4.7l.4 4.1l.4 3.4l.5 2.9l.4 2.4l.4 2l.5 1.7l.4 1.3l.4 1.1l.5 .9l.4 .8l.4 .6l.5 .5l.4 .5l.4 .4l.5 .4l1.7 1l1.7 .7l1.8 .5l1.7 .4l1.7 .4l1.8 .2l1.7 .2l1.7 .2l1.8 .1l1.7 .1l1.7 .1l1.8 .1l1.7 0l1.7 0l1.8 .1l8.6 .1l8.7 0l8.7 0l.7 0M373.3 32.3l1.4 .3l.4 .1l.5 .1l.4 .1l.4 .2l.5 .2l.4 .3l.4 .3l.5 .3l.4 .4l.4 .5l.5 .6l.4 .6l.4 .8l.5 1l.4 1.2l.4 1.7l.5 2.7l.4 5.5l.4 12.2l.5 20.8l.4 19.1l.4 10.4l.5 4.1l.4 1.6l.4 .8l.5 .6l.4 .5l.4 .4l.5 .5l.4 .4l.4 .5l.5 .4l.4 .4l.4 .4l.5 .4l.4 .4l.4 .4l.5 .4l.4 .3l.4 .4l1.8 1.3l1.7 1.2l1.7 1.1l1.8 1l1.7 1l1.7 .8l1.8 .8l1.7 .7l1.7 .6l1.8 .6l1.7 .5l1.7 .5l1.8 .5l1.7 .4l1.7 .3l8.7 1.5l8.6 .8l8.7 .6l.2 0M372.6 32.3l2.1 .3l.5 .1l.4 .1l.5 .1l.4 .2l.4 .1l.5 .2l.4 .2l.4 .2l.5 .3l.4 .3l.4 .3l.5 .4l.4 .5l.4 .5l.5 .7l.4 1l.4 1.5l.5 3.2l.4 7.1l.4 14.4l.5 22.4l.4 21.8l.4 13.7l.5 6.4l.4 2.7l.4 1.1l.5 .6l.4 .4l.4 .3l.5 .3l.4 .2l.4 .3l.5 .2l.4 .2l.4 .1l.5 .2l.4 .2l.4 .1l.5 .1l.4 .2l.4 .1l1.8 .4l1.7 .3l1.7 .2l1.8 .2l1.7 .1l1.7 .1l1.8 .1l1.7 0l1.7 0l1.8 .1l1.7 0l1.7 0l1.8 0l1.7 0l1.7 .1l8.7 0l8.6 0l8.4 0M362.7 32.3l2.1 .2l2.1 .2l2 .3l2.1 .5l2.1 .7l2.1 1l1.1 .7l.5 .4l.4 .3l.4 .4l.5 .4l.4 .5l.4 .4l.5 .6l.4 .6l.4 .7l.5 .8l.4 1l.4 1.2l.5 1.5l.4 2l.4 2.9l.5 3.9l.4 5.5l.4 7.2l.5 8.9l.4 9.7l.4 9.2l.5 8.1l.4 6.5l.4 4.7l.5 3.3l.4 2.2l.4 1.6l.5 1.1l.4 .8l.4 .6l.5 .6l.4 .5l.4 .4l.5 .4l.4 .4l.4 .4l.5 .3l.4 .4l.4 .3l.5 .3l1.7 1.3l1.7 1.2l1.7 1l1.8 1l1.7 .9l1.7 .8l1.8 .7l1.7 .7l1.7 .6l1.8 .6l1.7 .5l1.7 .5l1.8 .5l1.7 .4l1.7 .3l8.7 1.5l8.7 .9l7.2 .5M374.2 32.3l2.1 .4l.2 0l.4 .1l.4 .2l.5 .1l.4 .2l.4 .2l.5 .3l.4 .3l.4 .3l.5 .4l.4 .4l.4 .6l.5 .6l.4 .7l.4 .8l.5 1.1l.4 1.4l.4 2.3l.5 4.9l.4 12.2l.4 22.2l.5 21.1l.4 10.8l.4 3.9l.4 1.5l.5 .8l.4 .6l.4 .5l.5 .5l.4 .4l.4 .5l.5 .4l.4 .5l.4 .4l.5 .4l.4 .4l.4 .4l.5 .4l.4 .3l.4 .4l.5 .3l1.7 1.3l1.7 1.2l1.8 1l1.7 .9l1.7 .9l1.8 .7l1.7 .7l1.7 .6l1.8 .5l1.7 .5l1.7 .4l1.8 .4l1.7 .3l1.7 .4l1.8 .2l8.6 1l8.7 .6l7.1 .3M377.2 32.1l.5 0l.4 0l.4 .1l.5 0l.4 .1l.4 .1l.4 .1l.5 .2l.4 .2l.4 .3l.5 .4l.4 .5l.4 .6l.5 1l.4 1.3l.4 1.9l.5 3.5l.4 7.1l.4 15.7l.5 26.3l.4 23l.4 12.2l.5 4.5l.4 1.7l.4 .7l.5 .4l.4 .4l.4 .3l.5 .2l.4 .3l.4 .2l.5 .1l.4 .2l.4 .2l.5 .1l.4 .1l.4 .1l.5 .1l.4 .1l.4 .1l1.8 .2l1.7 .2l1.7 .1l1.8 .1l1.7 0l1.7 .1l1.8 0l1.7 0l1.7 0l1.8 0l1.7 0l1.7 0l1.8 0l1.7 0l1.7 0l8.7 0l8.7 0l6.3 0M379.2 32.8l.4 .2l.4 .2l.5 .4l.4 .4l.4 .6l.5 .7l.4 .9l.4 1.1l.5 1.5l.4 1.8l.4 2.2l.5 2.8l.4 3.4l.4 4.1l.5 4.8l.4 5.6l.4 6.3l.5 6.8l.4 7.3l.4 7.4l.5 6.1l.4 5.8l.4 5.5l.5 4.9l.4 4.4l.4 3.8l.5 3.1l.4 2.7l.4 2.1l.5 1.8l.4 1.4l.4 1.1l.5 .9l.4 .8l.4 .5l.5 .5l.4 .4l.4 .3l.5 .2l.4 .3l1.7 .5l1.8 .4l1.7 .2l1.7 .2l1.8 .2l1.7 .1l1.7 .1l1.8 .1l1.7 .1l1.7 .1l1.8 0l1.7 .1l1.7 0l1.8 .1l1.7 0l8.6 .1l8.7 .1l4.4 0M369.9 32.3l2.1 .2l2.1 .2l2.1 .4l2 .5l1.5 .5l.4 .2l.5 .2l.4 .3l.4 .3l.5 .4l.4 .5l.4 .6l.5 .7l.4 1l.4 1.2l.5 1.5l.4 2l.4 2.7l.5 3.4l.4 4.3l.4 5.3l.5 6.5l.4 7.5l.4 8.2l.5 8.7l.4 8.3l.4 7.9l.5 7l.4 6l.4 4.9l.4 3.8l.5 3l.4 2.3l.4 1.7l.5 1.2l.4 .9l.4 .7l.5 .5l.4 .4l.4 .3l.5 .3l.4 .2l.4 .1l.5 .2l.4 .1l1.7 .3l1.8 .3l1.7 .2l1.7 .2l1.8 .2l1.7 .1l1.7 .2l1.8 .1l1.7 .1l1.7 .1l1.8 0l1.7 .1l1.7 .1l1.8 0l1.7 .1l8.7 .1l8.6 .1l3.9 0M369.0 32.3l2 .2l2.1 .2l2.1 .3l2.1 .5l2.1 .8l2 1l.4 .2l.4 .3l.5 .3l.4 .4l.4 .3l.5 .5l.4 .4l.4 .5l.4 .5l.5 .6l.4 .7l.4 .8l.5 1l.4 1.4l.4 2.1l.5 3.1l.4 5l.4 7.7l.5 10.7l.4 12.9l.4 12.8l.5 10.8l.4 7.7l.4 5l.5 3.2l.4 2l.4 1.5l.5 1.1l.4 .9l.4 .7l.5 .7l.4 .6l.4 .5l.5 .6l.4 .4l.4 .5l.5 .4l.4 .4l.4 .3l.5 .4l1.7 1.1l1.7 .9l1.8 .6l1.7 .5l1.7 .4l1.8 .3l1.7 .2l1.7 .2l1.8 .1l1.7 .1l1.7 .1l1.8 0l1.7 .1l1.7 0l1.8 0l8.6 .1l8.7 0l2.2 0M367.7 32.3l2 .2l2.1 .2l2.1 .3l2.1 .5l2.1 .8l2 1l1.3 .9l.4 .3l.5 .4l.4 .4l.4 .4l.5 .5l.4 .5l.4 .6l.5 .6l.4 .7l.4 .7l.5 .8l.4 1l.4 1.1l.5 1.3l.4 1.9l.4 2.6l.5 4l.4 6.1l.4 8.5l.5 10.1l.4 9.9l.4 8.2l.5 5.9l.4 3.8l.4 2.5l.5 1.8l.4 1.4l.4 1.1l.5 1l.4 .9l.4 .8l.5 .9l.4 .7l.4 .8l.5 .7l.4 .7l.4 .7l.5 .6l.4 .6l.4 .6l1.8 2.2l1.7 1.8l1.7 1.6l1.8 1.4l1.7 1.2l1.7 1l1.8 .9l1.7 .8l1.7 .6l1.8 .6l1.7 .5l1.7 .4l1.8 .3l1.7 .3l1.7 .3l8.7 .9l8.6 .4l2.2 0M382.0 32.3l.5 0l.4 .2l.4 .1l.5 .2l.4 .2l.4 .4l.5 .4l.4 .6l.4 .9l.5 1l.4 1.5l.4 1.9l.5 2.5l.4 3.3l.4 4.1l.5 5.1l.4 6.1l.4 7l.5 7.7l.4 7.9l.4 6.4l.5 6.1l.4 5.7l.4 5l.5 4.2l.4 3.4l.4 2.9l.5 2.2l.4 1.9l.4 1.5l.5 1.2l.4 1l.4 .9l.5 .7l.4 .7l.4 .6l.5 .5l.4 .5l.4 .4l.5 .4l1.7 1.5l1.7 1.2l1.8 1l1.7 .9l1.7 .8l1.8 .6l1.7 .5l1.7 .5l1.8 .4l1.7 .3l1.7 .3l1.7 .2l1.8 .3l1.7 .1l1.7 .2l8.7 .5l8.7 .2l1.5 0M382.6 32.3l.5 .1l.4 0l.4 .1l.5 .2l.4 .1l.4 .2l.5 .3l.4 .3l.4 .4l.5 .5l.4 .6l.4 .8l.5 1l.4 1.2l.4 1.7l.5 2.5l.4 4.1l.4 7.1l.5 12.4l.4 16.9l.4 14.3l.5 9.5l.4 4.8l.4 2.4l.5 1.3l.4 1l.4 .8l.5 .7l.4 .7l.4 .7l.5 .6l.4 .6l.4 .6l.5 .6l.4 .5l.4 .6l.5 .5l.4 .5l.4 .5l.5 .5l1.7 1.7l1.7 1.6l1.8 1.3l1.7 1.2l1.7 1.1l1.8 .9l1.7 .8l1.7 .8l1.8 .6l1.7 .5l1.7 .5l1.8 .5l1.7 .3l1.7 .4l1.8 .3l8.6 1l8.7 .5l.9 .1M386.9 32.0l.4 0l.4 0l.5 0l.4 0l.4 .1l.5 0l.4 0l.4 .1l.5 .1l.4 .1l.4 .1l.5 .2l.4 .4l.4 .5l.5 .9l.4 1.6l.4 3.5l.5 7.5l.4 14.7l.4 21.8l.5 19.8l.4 12.7l.4 6l.5 2.6l.4 1.1l.4 .7l.5 .4l.4 .4l.4 .3l.5 .3l.4 .3l.4 .3l.5 .3l.4 .2l.4 .3l.5 .2l.4 .3l.4 .2l.5 .2l.4 .3l1.7 .8l1.8 .7l1.7 .7l1.7 .6l1.8 .5l1.7 .4l1.7 .4l1.8 .4l1.7 .3l1.7 .3l1.8 .2l1.7 .2l1.7 .2l1.7 .2l1.8 .1l8.6 .6l5.4 .2M307.0 32.0H391.1"/>
<rect x="289.9" y="18.3" width="173.1" height="138.3" fill="none" stroke="#000" stroke-width="1.9"/>
<text x="307" y="168.6" font-size="10.6" text-anchor="middle">0</text>
<text x="341.65" y="168.6" font-size="10.6" text-anchor="middle">1</text>
<text x="376.3" y="168.6" font-size="10.6" text-anchor="middle">2</text>
<text x="410.95" y="168.6" font-size="10.6" text-anchor="middle">3</text>
<text x="445.6" y="168.6" font-size="10.6" text-anchor="middle">4</text>
<path d="M307 156.6 v-3 M324.32 156.6 v-1.8 M341.65 156.6 v-3 M358.97 156.6 v-1.8 M376.3 156.6 v-3 M393.62 156.6 v-1.8 M410.95 156.6 v-3 M428.27 156.6 v-1.8 M445.6 156.6 v-3 M289.9 32 h3 M289.9 142.7 h3" stroke="#000" stroke-width="1.3" fill="none"/>
<text x="286.4" y="35.9" font-size="11.2" text-anchor="end">4</text>
<text x="286.4" y="146.6" font-size="11.2" text-anchor="end">0</text>
<text x="263" y="12.6" font-size="12.5">b</text>
<text x="374.8" y="184.3" font-size="12.6" text-anchor="middle" textLength="38.6" lengthAdjust="spacingAndGlyphs">V<tspan font-size="8.5" dy="2.8">in</tspan><tspan dy="-2.8"> (V)</tspan></text>
<text transform="translate(277.6 89) rotate(-90)" font-size="12" text-anchor="middle" textLength="37.6" lengthAdjust="spacingAndGlyphs">V<tspan font-size="7.5" dy="2.4">out</tspan><tspan dy="-2.4"> (V)</tspan></text>
<path fill="none" stroke="#5566E0" stroke-width="0.37" d="M343.4 233.4l2 .2l1.9 .4l.4 0l.5 .2l.4 .1l.4 .1l.4 .1l.4 .2l.5 .2l.4 .2l.4 .2l.4 .2l.4 .3l.5 .3l.4 .4l.4 .4l.4 .7l.4 1.3l.5 2.6l.4 6.1l.4 12.5l.4 19.5l.4 19.5l.5 12.6l.4 6.1l.4 2.8l.4 1.4l.4 .9l.4 .6l.5 .6l.4 .5l.4 .5l.4 .5l.4 .4l.5 .5l.4 .4l.4 .4l.4 .4l.4 .3l.5 .4l.4 .3l.4 .4l.4 .3l1.7 1.1l1.7 1l1.7 .9l1.6 .7l1.7 .6l1.7 .5l1.7 .5l1.6 .4l1.7 .3l1.7 .3l1.7 .2l1.6 .3l1.7 .1l1.7 .2l1.7 .1l8.4 .4l8.4 .2l8.3 .1l8.4 .1l8.4 0l8.4 0l.3 0M347.4 233.2l.4 .1l.4 0l.4 .1l.5 0l.4 .1l.4 .1l.4 .1l.4 .2l.5 .2l.4 .2l.4 .3l.4 .4l.4 .6l.5 .9l.4 1.6l.4 2.7l.4 4.8l.4 8.4l.4 13l.5 16.7l.4 15.6l.4 11.9l.4 7.3l.4 4l.5 2l.4 1.1l.4 .5l.4 .4l.4 .2l.5 .2l.4 .1l.4 .2l.4 .1l.4 .1l.5 .2l.4 .1l.4 .1l.4 .1l.4 .1l.5 .1l.4 .1l1.7 .3l1.6 .3l1.7 .3l1.7 .2l1.7 .1l1.6 .2l1.7 .1l1.7 .1l1.7 .1l1.6 .1l1.7 .1l1.7 .1l1.7 0l1.7 .1l1.6 0l8.4 .1l8.4 .1l8.4 0l8.4 0l8.4 0l8.4 0l.2 0M348.1 233.6l.4 .1l.4 .2l.4 .3l.4 .3l.5 .4l.4 .5l.4 .6l.4 .8l.4 1.1l.5 1.3l.4 1.7l.4 2.1l.4 2.5l.4 3.2l.5 3.7l.4 4.5l.4 5.1l.4 5.8l.4 6.5l.5 7l.4 4.5l.4 4.5l.4 4.5l.4 4.1l.5 3.9l.4 3.5l.4 3.1l.4 2.7l.4 2.4l.4 2l.5 1.8l.4 1.5l.4 1.2l.4 1.1l.4 .9l.5 .8l.4 .7l.4 .6l.4 .5l.4 .4l.5 .4l1.6 1.2l1.7 .7l1.7 .5l1.7 .3l1.6 .2l1.7 .1l1.7 .1l1.7 .1l1.7 .1l1.6 0l1.7 0l1.7 0l1.7 0l1.6 0l1.7 .1l8.4 0l8.4 0l8.4 0l8.4 0l8.4 0l7.9 0M340.3 233.4l2 .2l2 .4l2 .5l2 .8l.4 .3l.4 .3l.4 .3l.4 .4l.5 .4l.4 .5l.4 .6l.4 .7l.4 .8l.5 1.1l.4 1.3l.4 1.7l.4 2.2l.4 2.9l.4 3.7l.5 4.7l.4 5.8l.4 7l.4 7.7l.4 8.1l.5 7.7l.4 7.4l.4 6.4l.4 5.4l.4 4.4l.5 3.4l.4 2.6l.4 2l.4 1.6l.4 1.2l.5 1l.4 .9l.4 .7l.4 .6l.4 .5l.5 .5l.4 .5l.4 .4l.4 .3l.4 .4l.5 .3l1.6 1.2l1.7 .9l1.7 .7l1.7 .6l1.6 .5l1.7 .4l1.7 .3l1.7 .2l1.7 .2l1.6 .2l1.7 .1l1.7 .1l1.7 .1l1.6 0l1.7 .1l8.4 .1l8.4 .1l8.4 0l8.4 0l8.4 0l7.7 0M349.8 233.1l.4 0l.4 0l.4 0l.5 0l.4 .1l.4 0l.4 0l.4 .1l.5 0l.4 .2l.4 .1l.4 .3l.4 .5l.5 .7l.4 1.3l.4 2.4l.4 4.5l.4 8.4l.5 14l.4 18.2l.4 14.9l.4 10.7l.4 6.1l.4 3.2l.5 1.8l.4 1.1l.4 .8l.4 .6l.4 .6l.5 .6l.4 .5l.4 .4l.4 .5l.4 .4l.5 .4l.4 .3l.4 .4l.4 .3l.4 .3l.5 .3l.4 .3l1.7 .9l1.6 .8l1.7 .6l1.7 .5l1.7 .3l1.6 .3l1.7 .3l1.7 .1l1.7 .2l1.7 .1l1.6 .1l1.7 .1l1.7 0l1.7 .1l1.6 0l8.4 .1l8.4 0l8.4 0l8.4 0l8.4 0l6.2 0M351.8 233.2l.4 0l.5 0l.4 0l.4 .1l.4 0l.4 .1l.4 .1l.5 .1l.4 .1l.4 .3l.4 .3l.4 .4l.5 .6l.4 1l.4 1.7l.4 2.9l.4 5.1l.5 8.7l.4 13.2l.4 16.5l.4 15.5l.4 12.2l.5 8l.4 4.7l.4 2.7l.4 1.7l.4 1.1l.5 .8l.4 .7l.4 .5l.4 .4l.4 .4l.5 .4l.4 .3l.4 .3l.4 .2l.4 .3l.4 .2l.5 .1l.4 .2l.4 .1l1.7 .4l1.7 .3l1.6 .2l1.7 .1l1.7 .1l1.7 0l1.7 0l1.6 0l1.7 0l1.7 .1l1.7 0l1.6 0l1.7 0l1.7 0l1.7 0l8.4 0l8.3 0l8.4 0l8.4 0l8.4 0l4.2 0M352.2 233.4l.5 .1l.4 .1l.4 .2l.4 .2l.4 .2l.5 .4l.4 .5l.4 .6l.4 .8l.4 1.1l.5 1.4l.4 1.8l.4 2.4l.4 3l.4 3.8l.5 4.7l.4 5.4l.4 6.3l.4 6.7l.4 7l.5 5.9l.4 5.7l.4 5.2l.4 4.6l.4 3.9l.5 3.3l.4 2.6l.4 2.1l.4 1.7l.4 1.4l.4 1.1l.5 .9l.4 .8l.4 .6l.4 .5l.4 .5l.5 .4l.4 .4l.4 .4l.4 .3l.4 .3l1.7 1.1l1.7 1l1.7 .8l1.7 .7l1.6 .6l1.7 .6l1.7 .5l1.7 .4l1.6 .4l1.7 .3l1.7 .3l1.7 .3l1.7 .3l1.6 .2l1.7 .1l8.4 .7l8.4 .3l8.4 .2l8.4 .1l8.3 .1l3.8 0M352.7 233.1l.4 .1l.4 0l.5 0l.4 0l.4 .1l.4 0l.4 .1l.5 .1l.4 .1l.4 .2l.4 .2l.4 .3l.5 .3l.4 .5l.4 .7l.4 1.1l.4 1.8l.4 4.3l.5 11.5l.4 22.9l.4 21.4l.4 10l.4 3.4l.5 1.4l.4 .9l.4 .7l.4 .6l.4 .7l.5 .6l.4 .5l.4 .6l.4 .6l.4 .5l.5 .5l.4 .5l.4 .5l.4 .5l.4 .5l.5 .4l.4 .4l.4 .5l1.7 1.5l1.6 1.4l1.7 1.2l1.7 1.1l1.7 1l1.7 .8l1.6 .8l1.7 .6l1.7 .6l1.7 .5l1.6 .5l1.7 .4l1.7 .4l1.7 .3l1.7 .3l8.3 1l8.4 .5l8.4 .3l8.4 .1l8.4 .1l3.3 0M349.9 233.5l2 .3l1.5 .5l.4 .3l.4 .2l.4 .4l.5 .4l.4 .5l.4 .6l.4 .8l.4 .9l.5 1.2l.4 1.4l.4 1.7l.4 2.1l.4 2.6l.5 3l.4 3.6l.4 4.1l.4 4.6l.4 5l.4 5.2l.5 5.3l.4 4.9l.4 4.8l.4 4.5l.4 4.2l.5 3.7l.4 3.2l.4 2.8l.4 2.3l.4 2l.5 1.7l.4 1.4l.4 1.1l.4 1l.4 .8l.5 .7l.4 .7l.4 .5l.4 .5l.4 .4l.5 .4l.4 .4l1.7 1.3l1.6 1.1l1.7 1l1.7 .9l1.7 .8l1.6 .7l1.7 .7l1.7 .6l1.7 .6l1.6 .5l1.7 .5l1.7 .4l1.7 .4l1.7 .4l1.6 .4l8.4 1.3l8.4 .9l8.4 .6l8.4 .4l8.4 .2l2.6 .1M354.7 233.3l.5 0l.4 .1l.4 0l.4 .1l.4 .1l.5 .2l.4 .1l.4 .3l.4 .2l.4 .4l.5 .5l.4 .6l.4 .8l.4 1.2l.4 1.8l.5 2.8l.4 5l.4 8.7l.4 14.1l.4 18.4l.5 15.8l.4 11.3l.4 6.3l.4 3.1l.4 1.5l.5 .8l.4 .5l.4 .4l.4 .3l.4 .2l.4 .3l.5 .2l.4 .2l.4 .2l.4 .2l.4 .2l.5 .1l.4 .2l.4 .2l.4 .1l.4 .1l1.7 .6l1.7 .4l1.7 .3l1.7 .3l1.6 .3l1.7 .2l1.7 .1l1.7 .2l1.6 .1l1.7 .1l1.7 .1l1.7 0l1.6 .1l1.7 0l1.7 .1l8.4 .1l8.4 0l8.4 .1l8.4 0l8.3 0l1.3 0M338.7 233.4l2 .1l2 .1l2.1 .2l2 .2l2 .3l2 .4l2 .5l2 .6l.8 .3l.4 .2l.4 .1l.4 .2l.5 .2l.4 .2l.4 .3l.4 .2l.4 .3l.5 .2l.4 .3l.4 .3l.4 .3l.4 .4l.5 .4l.4 .6l.4 1.1l.4 2.3l.4 6l.5 13.5l.4 22.5l.4 22.3l.4 13.3l.4 5.7l.4 2.2l.5 .9l.4 .5l.4 .3l.4 .2l.4 .2l.5 .2l.4 .2l.4 .2l.4 .2l.4 .2l.5 .2l.4 .1l.4 .2l.4 .2l.4 .1l.5 .2l.4 .1l1.7 .5l1.6 .5l1.7 .4l1.7 .4l1.7 .3l1.6 .3l1.7 .3l1.7 .2l1.7 .2l1.7 .2l1.6 .1l1.7 .2l1.7 .1l1.7 .1l1.6 .1l8.4 .3l8.4 .2l8.4 .1l8.4 .1l8.4 0l.4 0M356.3 233.2l.5 0l.4 0l.4 0l.4 .1l.4 0l.4 .1l.5 .1l.4 .1l.4 .2l.4 .2l.4 .3l.5 .4l.4 .7l.4 1l.4 1.7l.4 3l.5 5.4l.4 9l.4 13.6l.4 17.1l.4 15.5l.5 12.1l.4 7.6l.4 4.2l.4 2.2l.4 1.2l.5 .6l.4 .4l.4 .3l.4 .2l.4 .1l.5 .2l.4 .1l.4 .2l.4 .1l.4 .1l.4 .2l.5 .1l.4 .1l.4 .1l.4 .1l1.7 .4l1.7 .3l1.7 .3l1.6 .3l1.7 .2l1.7 .2l1.7 .2l1.6 .2l1.7 .1l1.7 .1l1.7 .1l1.7 .1l1.6 .1l1.7 .1l1.7 0l8.4 .2l8.4 .2l8.4 0l8.3 0l8.1 .1M342.2 233.4l2 .1l2.1 .2l2 .3l2 .3l2 .5l2 .7l2 1l.9 .6l.4 .3l.4 .3l.4 .4l.5 .4l.4 .5l.4 .6l.4 .6l.4 .8l.5 .9l.4 1.2l.4 1.4l.4 1.8l.4 2.2l.5 2.8l.4 3.4l.4 4.2l.4 5.1l.4 5.7l.5 6.3l.4 6.5l.4 6.4l.4 6.2l.4 5.7l.5 4.9l.4 4.1l.4 3.4l.4 2.7l.4 2.1l.4 1.7l.5 1.4l.4 1.1l.4 1l.4 .8l.4 .6l.5 .6l.4 .5l.4 .5l.4 .4l.4 .4l.5 .3l.4 .3l1.7 1.2l1.6 .8l1.7 .8l1.7 .5l1.7 .5l1.6 .3l1.7 .3l1.7 .3l1.7 .2l1.7 .1l1.6 .2l1.7 .1l1.7 .1l1.7 0l1.6 .1l8.4 .1l8.4 .1l8.4 0l8.4 0l7.2 0M357.4 233.2l.5 .1l.4 0l.4 0l.4 .1l.4 .1l.5 .1l.4 .1l.4 .2l.4 .2l.4 .3l.5 .4l.4 .5l.4 .9l.4 1.2l.4 2.1l.4 3.4l.5 5.8l.4 9.3l.4 13.5l.4 16.3l.4 14.7l.5 11.7l.4 7.7l.4 4.4l.4 2.5l.4 1.3l.5 .7l.4 .4l.4 .3l.4 .2l.4 .1l.5 .1l.4 .1l.4 .2l.4 0l.4 .1l.5 .1l.4 .1l.4 .1l.4 .1l.4 0l1.7 .3l1.7 .3l1.7 .2l1.6 .1l1.7 .2l1.7 .1l1.7 .1l1.7 .1l1.6 .1l1.7 .1l1.7 0l1.7 .1l1.6 0l1.7 .1l1.7 0l8.4 .1l8.4 0l8.4 .1l8.3 0l7 0M342.2 233.4l2 .2l2 .1l2 .3l2.1 .4l2 .5l2 .7l2 1l1.2 .9l.5 .3l.4 .4l.4 .3l.4 .4l.4 .5l.5 .4l.4 .5l.4 .6l.4 .6l.4 .7l.4 .7l.5 .9l.4 1.1l.4 1.5l.4 2.2l.4 3.2l.5 5.1l.4 7.6l.4 10.4l.4 12.4l.4 11.7l.5 9.6l.4 6.7l.4 4.2l.4 2.5l.4 1.5l.5 .8l.4 .6l.4 .4l.4 .3l.4 .3l.5 .2l.4 .2l.4 .2l.4 .2l.4 .2l.5 .2l.4 .1l.4 .2l.4 .2l.4 .1l1.7 .6l1.7 .5l1.7 .5l1.6 .4l1.7 .3l1.7 .3l1.7 .3l1.7 .2l1.6 .2l1.7 .2l1.7 .2l1.7 .1l1.6 .2l1.7 .1l1.7 .1l8.4 .3l8.4 .2l8.4 .1l8.3 .1l6.9 0M357.6 233.4l.6 .1l.4 .1l.5 .1l.4 .1l.4 .2l.4 .2l.4 .2l.4 .2l.5 .3l.4 .4l.4 .5l.4 .6l.4 .7l.5 1l.4 1.3l.4 1.9l.4 3.1l.4 5.2l.5 8.7l.4 13.3l.4 16.5l.4 15.1l.4 11.4l.5 7.1l.4 3.9l.4 2.1l.4 1.3l.4 .7l.5 .6l.4 .5l.4 .4l.4 .4l.4 .3l.5 .3l.4 .3l.4 .3l.4 .3l.4 .2l.4 .3l.5 .2l.4 .2l.4 .2l1.7 .7l1.7 .5l1.6 .4l1.7 .3l1.7 .3l1.7 .1l1.7 .2l1.6 .1l1.7 .1l1.7 .1l1.7 0l1.6 .1l1.7 0l1.7 0l1.7 .1l8.4 0l8.3 0l8.4 0l8.4 0l6.2 0M356.2 233.4l2.1 .4l.2 0l.4 .2l.4 .1l.4 .2l.4 .2l.5 .3l.4 .3l.4 .3l.4 .5l.4 .6l.5 .7l.4 .9l.4 1.2l.4 1.6l.4 2.3l.5 3.3l.4 4.6l.4 6.4l.4 8.6l.4 10.4l.5 11.4l.4 10.5l.4 9.3l.4 7.5l.4 5.4l.5 3.8l.4 2.6l.4 1.8l.4 1.2l.4 .9l.4 .7l.5 .5l.4 .4l.4 .3l.4 .3l.4 .3l.5 .2l.4 .2l.4 .1l.4 .2l.4 .1l.5 .1l1.6 .4l1.7 .2l1.7 .1l1.7 .1l1.6 .1l1.7 0l1.7 0l1.7 0l1.7 0l1.6 0l1.7 .1l1.7 0l1.7 0l1.6 0l1.7 0l8.4 0l8.4 0l8.4 0l8.4 0l5.9 0M349.9 233.4l2 .2l2 .2l2 .4l2 .5l.7 .3l.5 .2l.4 .1l.4 .2l.4 .3l.4 .2l.5 .3l.4 .4l.4 .4l.4 .5l.4 .6l.5 .8l.4 1.1l.4 1.5l.4 2.1l.4 3l.5 4.2l.4 5.7l.4 7.4l.4 8.8l.4 9.7l.4 9.4l.5 8.6l.4 7.1l.4 5.4l.4 4l.4 2.8l.5 2l.4 1.4l.4 1l.4 .8l.4 .6l.5 .5l.4 .5l.4 .3l.4 .4l.4 .3l.5 .3l.4 .3l.4 .3l.4 .2l.4 .3l1.7 1l1.7 .8l1.7 .8l1.6 .7l1.7 .6l1.7 .5l1.7 .5l1.7 .4l1.6 .4l1.7 .3l1.7 .3l1.7 .3l1.6 .2l1.7 .2l1.7 .2l8.4 .7l8.4 .4l8.4 .2l8.3 .1l5.8 0M359.0 234.0l.4 .2l.5 .2l.4 .3l.4 .4l.4 .5l.4 .6l.4 .7l.5 .9l.4 1.1l.4 1.4l.4 1.6l.4 2l.5 2.3l.4 2.8l.4 3.2l.4 3.7l.4 4.2l.5 4.6l.4 5l.4 5.1l.4 5.3l.4 5.2l.5 5.2l.4 5l.4 4.8l.4 4.4l.4 3.9l.5 3.6l.4 3.1l.4 2.7l.4 2.3l.4 2l.5 1.7l.4 1.4l.4 1.3l.4 1.1l.4 .9l.5 .8l.4 .7l.4 .6l.4 .5l.4 .5l1.7 1.4l1.7 .9l1.7 .7l1.6 .5l1.7 .3l1.7 .3l1.7 .2l1.6 .1l1.7 .2l1.7 0l1.7 .1l1.7 .1l1.6 0l1.7 0l1.7 0l8.4 .1l8.4 0l8.4 0l8.3 0l5 0M360.2 233.4l.8 .1l.4 .1l.4 .1l.4 .2l.5 .1l.4 .2l.4 .3l.4 .2l.4 .4l.5 .4l.4 .5l.4 .7l.4 .8l.4 1.2l.4 1.6l.5 2.4l.4 3.6l.4 5.7l.4 8.7l.4 11.8l.5 13.8l.4 12.2l.4 9.8l.4 6.8l.4 4.1l.5 2.5l.4 1.5l.4 .9l.4 .7l.4 .5l.5 .4l.4 .4l.4 .3l.4 .3l.4 .4l.5 .3l.4 .3l.4 .3l.4 .2l.4 .3l.5 .3l.4 .2l1.6 1l1.7 .8l1.7 .7l1.7 .7l1.7 .6l1.6 .5l1.7 .4l1.7 .4l1.7 .4l1.6 .3l1.7 .3l1.7 .2l1.7 .2l1.7 .2l1.6 .2l8.4 .6l8.4 .3l8.4 .2l8.4 .1l3.4 0M351.3 233.4l2 .2l2 .2l2 .4l2 .6l2 .8l.4 .2l.4 .3l.4 .3l.5 .2l.4 .4l.4 .3l.4 .4l.4 .4l.5 .5l.4 .4l.4 .6l.4 .6l.4 .7l.5 .8l.4 1.1l.4 1.7l.4 3.3l.4 7l.5 13.7l.4 20.6l.4 20.2l.4 13l.4 6.3l.5 2.7l.4 1.2l.4 .7l.4 .4l.4 .3l.4 .3l.5 .2l.4 .2l.4 .2l.4 .2l.4 .2l.5 .1l.4 .2l.4 .1l.4 .2l.4 .1l.5 .1l1.6 .4l1.7 .3l1.7 .2l1.7 .1l1.6 .1l1.7 .1l1.7 .1l1.7 0l1.7 .1l1.6 0l1.7 0l1.7 0l1.7 .1l1.6 0l1.7 0l1.7 0l8.4 0l8.4 0l8.4 0l8.4 0l1.8 0M350.4 233.4l2 .2l2 .3l2 .4l2 .6l2 .9l1.1 .7l.4 .4l.4 .3l.4 .4l.5 .4l.4 .5l.4 .5l.4 .6l.4 .6l.5 .7l.4 .8l.4 1l.4 1.1l.4 1.5l.5 1.9l.4 2.7l.4 3.7l.4 5.3l.4 7.2l.5 9l.4 9.9l.4 9.3l.4 8.1l.4 6.2l.5 4.4l.4 2.9l.4 2l.4 1.3l.4 1l.4 .8l.5 .6l.4 .5l.4 .5l.4 .4l.4 .5l.5 .4l.4 .3l.4 .4l.4 .4l.4 .3l.5 .3l1.6 1.3l1.7 1l1.7 1l1.7 .8l1.6 .7l1.7 .7l1.7 .5l1.7 .5l1.7 .5l1.6 .3l1.7 .4l1.7 .3l1.7 .2l1.6 .3l1.7 .2l1.7 .1l8.4 .6l8.4 .4l8.4 .1l8.4 .1l1.6 0M344.8 233.4l2 .1l2 .2l2 .2l2.1 .4l2 .4l2 .7l2 .8l2 1.4l.6 .5l.4 .4l.4 .5l.5 .5l.4 .6l.4 .7l.4 .8l.4 1l.5 1.1l.4 1.4l.4 1.6l.4 2l.4 2.4l.5 2.9l.4 3.4l.4 4.1l.4 4.7l.4 5.3l.5 5.9l.4 6.2l.4 6.3l.4 5.9l.4 5.7l.5 5.4l.4 4.7l.4 4.2l.4 3.5l.4 2.9l.5 2.4l.4 1.9l.4 1.6l.4 1.2l.4 1l.4 .8l.5 .7l.4 .5l.4 .5l.4 .3l.4 .4l.5 .2l.4 .3l1.7 .7l1.6 .5l1.7 .4l1.7 .3l1.7 .2l1.6 .2l1.7 .2l1.7 .1l1.7 .1l1.7 .1l1.6 0l1.7 .1l1.7 0l1.7 .1l1.6 0l1.7 0l8.4 .1l8.4 0l8.4 0l8.4 0l1.6 0M357.2 233.4l2 .2l2 .4l1.7 .4l.5 .2l.4 .2l.4 .2l.4 .3l.4 .3l.4 .4l.5 .5l.4 .6l.4 .7l.4 1l.4 1.3l.5 1.7l.4 2.3l.4 2.9l.4 3.8l.4 4.8l.5 5.8l.4 6.9l.4 7.7l.4 8l.4 8.3l.5 7.9l.4 7.2l.4 6.1l.4 5.1l.4 4l.5 3.2l.4 2.4l.4 1.9l.4 1.4l.4 1.2l.5 .9l.4 .7l.4 .5l.4 .5l.4 .4l.5 .3l.4 .3l.4 .2l.4 .2l1.7 .6l1.7 .3l1.6 .3l1.7 .1l1.7 .1l1.7 .1l1.7 0l1.6 0l1.7 .1l1.7 0l1.7 0l1.6 0l1.7 0l1.7 0l1.7 0l1.6 0l8.4 0l8.4 0l8.4 0l8.4 0l.2 0M362.2 233.4l1.3 .2l.4 .1l.4 .1l.5 .1l.4 .2l.4 .1l.4 .2l.4 .2l.4 .3l.5 .3l.4 .4l.4 .5l.4 .6l.4 .8l.5 1.3l.4 1.9l.4 3.1l.4 5.1l.4 8.1l.5 11.6l.4 13.9l.4 13.7l.4 11.4l.4 8l.5 5.2l.4 3.2l.4 2.1l.4 1.5l.4 1.1l.5 .9l.4 .7l.4 .7l.4 .6l.4 .5l.5 .5l.4 .5l.4 .5l.4 .4l.4 .3l.5 .4l.4 .3l1.6 1.1l1.7 .8l1.7 .6l1.7 .4l1.7 .3l1.6 .3l1.7 .2l1.7 .1l1.7 .1l1.6 .1l1.7 0l1.7 .1l1.7 0l1.7 0l1.6 0l1.7 0l8.4 .1l8.4 0l8.4 0l8 0M363.9 233.2l.4 0l.5 0l.4 .1l.4 0l.4 .1l.4 .2l.5 .2l.4 .3l.4 .4l.4 .7l.4 .9l.4 1.3l.5 2l.4 2.7l.4 3.8l.4 5.1l.4 6.5l.5 8.1l.4 9.3l.4 10l.4 8.8l.4 8.3l.5 7.2l.4 5.9l.4 4.6l.4 3.5l.4 2.5l.5 1.9l.4 1.4l.4 1l.4 .7l.4 .6l.5 .4l.4 .4l.4 .3l.4 .2l.4 .2l.5 .2l.4 .1l.4 .2l1.7 .4l1.6 .3l1.7 .2l1.7 .2l1.7 .1l1.7 .1l1.6 .1l1.7 0l1.7 0l1.7 .1l1.6 0l1.7 0l1.7 0l1.7 0l1.7 0l1.6 0l8.4 0l8.4 0l8.4 0l7.6 0M362.9 233.4l1.6 .3l.4 .1l.4 .1l.5 .2l.4 .1l.4 .2l.4 .2l.4 .3l.4 .3l.5 .4l.4 .5l.4 .5l.4 .7l.4 .8l.5 1.2l.4 1.7l.4 2.7l.4 4.7l.4 8l.5 12.4l.4 15.8l.4 14.7l.4 11l.4 6.8l.5 3.6l.4 2l.4 1.1l.4 .8l.4 .5l.5 .5l.4 .4l.4 .4l.4 .4l.4 .3l.5 .3l.4 .4l.4 .3l.4 .3l.4 .3l.4 .3l.5 .2l1.6 1l1.7 .9l1.7 .7l1.7 .7l1.7 .6l1.6 .5l1.7 .4l1.7 .4l1.7 .3l1.6 .3l1.7 .2l1.7 .2l1.7 .2l1.7 .2l1.6 .1l1.7 .1l8.4 .4l8.4 .2l8.4 .1l7 .1M354.2 233.4l2 .2l2 .2l2 .3l2.1 .5l2 .7l.6 .3l.4 .2l.4 .3l.5 .2l.4 .3l.4 .3l.4 .3l.4 .4l.5 .3l.4 .5l.4 .4l.4 .5l.4 .6l.5 .6l.4 .8l.4 1.2l.4 2l.4 3.7l.5 7.3l.4 13l.4 18.2l.4 17.7l.4 12.3l.5 6.6l.4 3.2l.4 1.4l.4 .8l.4 .4l.5 .3l.4 .2l.4 .3l.4 .2l.4 .2l.4 .1l.5 .2l.4 .2l.4 .2l.4 .1l.4 .2l.5 .2l.4 .1l1.7 .6l1.6 .5l1.7 .4l1.7 .4l1.7 .3l1.6 .3l1.7 .3l1.7 .2l1.7 .2l1.7 .2l1.6 .2l1.7 .1l1.7 .1l1.7 .1l1.6 .1l1.7 .1l8.4 .3l8.4 .1l8.4 .1l6.6 .1M349.3 233.4l2 .1l2 .2l2 .2l2 .3l2 .4l2 .5l2.1 .8l1.7 .8l.5 .3l.4 .2l.4 .3l.4 .3l.4 .3l.5 .3l.4 .4l.4 .3l.4 .4l.4 .5l.5 .5l.4 .6l.4 .7l.4 .9l.4 1.5l.5 2.5l.4 4.3l.4 7.4l.4 11.5l.4 14.6l.5 14.4l.4 11.3l.4 7.1l.4 4.1l.4 2.3l.4 1.3l.5 .9l.4 .6l.4 .4l.4 .5l.4 .3l.5 .4l.4 .3l.4 .4l.4 .3l.4 .3l.5 .3l.4 .2l.4 .3l.4 .3l1.7 .9l1.7 .8l1.7 .7l1.6 .6l1.7 .5l1.7 .4l1.7 .4l1.6 .3l1.7 .3l1.7 .3l1.7 .2l1.7 .2l1.6 .1l1.7 .1l1.7 .2l1.7 .1l8.3 .3l8.4 .1l8.4 .1l6.4 0M367.4 233.1l.4 .1l.4 0l.5 0l.4 0l.4 .1l.4 0l.4 .1l.5 .1l.4 .2l.4 .3l.4 .4l.4 .6l.5 .9l.4 1.5l.4 2.3l.4 3.6l.4 5.5l.5 7.7l.4 10l.4 11.4l.4 10.4l.4 9.2l.5 7.1l.4 5l.4 3.4l.4 2.3l.4 1.6l.4 1.1l.5 .8l.4 .7l.4 .6l.4 .5l.4 .4l.5 .5l.4 .4l.4 .4l.4 .4l.4 .4l.5 .3l.4 .4l1.7 1.3l1.6 1.1l1.7 1.1l1.7 .9l1.7 .8l1.6 .7l1.7 .6l1.7 .5l1.7 .5l1.7 .5l1.6 .3l1.7 .4l1.7 .3l1.7 .2l1.6 .3l8.4 .8l8.4 .4l8.4 .3l5.8 .1M365.5 233.4l2 .3l1.6 .4l.4 .1l.4 .2l.4 .2l.5 .2l.4 .2l.4 .3l.4 .3l.4 .3l.5 .4l.4 .5l.4 .5l.4 .6l.4 .6l.4 .8l.5 .9l.4 1.2l.4 1.9l.4 4.3l.4 12.5l.5 26.9l.4 26l.4 11.4l.4 3.4l.4 1.2l.5 .5l.4 .5l.4 .4l.4 .3l.4 .4l.5 .3l.4 .4l.4 .3l.4 .3l.4 .2l.5 .3l.4 .3l.4 .2l.4 .2l.4 .3l.5 .2l1.6 .7l1.7 .7l1.7 .5l1.7 .5l1.6 .3l1.7 .3l1.7 .3l1.7 .2l1.6 .2l1.7 .1l1.7 .1l1.7 .1l1.7 .1l1.6 .1l1.7 .1l8.4 .1l8.4 .1l8.4 0l4.1 0M345.0 233.4l2 .1l2 .1l2 .2l2 .2l2 .3l2 .3l2.1 .4l2 .6l2 .7l2 1l2 1.2l2 1.6l.3 .3l.4 .4l.4 .4l.4 .4l.5 .5l.4 .5l.4 .6l.4 .5l.4 .7l.5 .7l.4 .8l.4 .9l.4 1.1l.4 1.5l.5 1.9l.4 2.7l.4 3.8l.4 5.4l.4 7.2l.5 8.9l.4 9.9l.4 9.7l.4 8.5l.4 6.8l.4 4.9l.5 3.3l.4 2.3l.4 1.6l.4 1l.4 .8l.5 .6l.4 .5l.4 .4l.4 .3l.4 .3l.5 .3l.4 .2l.4 .3l.4 .2l.4 .2l.5 .2l1.6 .6l1.7 .5l1.7 .4l1.7 .3l1.6 .3l1.7 .1l1.7 .2l1.7 .1l1.7 .1l1.6 0l1.7 .1l1.7 0l1.7 .1l1.6 0l1.7 0l8.4 0l8.4 .1l8.4 0l3.8 0M370.4 233.2l.4 0l.4 0l.4 0l.4 .1l.5 0l.4 .1l.4 .1l.4 .1l.4 .2l.5 .2l.4 .4l.4 .4l.4 .7l.4 1.1l.5 1.7l.4 2.8l.4 5l.4 8.3l.4 12.4l.4 15.4l.5 13.8l.4 10.9l.4 7l.4 4.1l.4 2.5l.5 1.5l.4 1.1l.4 .8l.4 .7l.4 .6l.5 .6l.4 .5l.4 .5l.4 .5l.4 .4l.5 .4l.4 .4l.4 .4l.4 .3l.4 .3l1.7 1.1l1.7 .9l1.7 .7l1.6 .5l1.7 .5l1.7 .3l1.7 .2l1.7 .3l1.6 .1l1.7 .1l1.7 .1l1.7 .1l1.6 .1l1.7 0l1.7 .1l8.4 .1l8.4 0l8.4 0l2.8 0M371.6 233.2l.4 0l.5 0l.4 0l.4 .1l.4 0l.4 .1l.5 .1l.4 .2l.4 .2l.4 .3l.4 .4l.5 .7l.4 1.1l.4 1.6l.4 2.7l.4 4.2l.5 6.6l.4 9.6l.4 12.8l.4 14.7l.4 12.3l.5 10.4l.4 7.5l.4 4.9l.4 3.1l.4 1.8l.4 1.2l.5 .7l.4 .5l.4 .4l.4 .4l.4 .2l.5 .3l.4 .2l.4 .2l.4 .2l.4 .2l.5 .2l.4 .1l.4 .2l1.7 .5l1.7 .4l1.6 .3l1.7 .3l1.7 .2l1.7 .2l1.6 .1l1.7 .1l1.7 .1l1.7 .1l1.7 .1l1.6 0l1.7 0l1.7 .1l1.7 0l8.3 .1l8.4 0l8.4 0l1.6 0M357.3 233.4l2 .1l2 .2l2 .2l2 .2l2.1 .4l2 .5l2 .7l1.3 .6l.5 .2l.4 .3l.4 .3l.4 .4l.4 .4l.5 .5l.4 .6l.4 .7l.4 .9l.4 1.1l.5 1.4l.4 1.8l.4 2.2l.4 2.8l.4 3.4l.5 4.1l.4 4.8l.4 5.5l.4 5.9l.4 6.1l.5 6.4l.4 6.3l.4 5.8l.4 5.2l.4 4.5l.4 3.8l.5 3.1l.4 2.5l.4 2.1l.4 1.6l.4 1.4l.5 1.1l.4 .9l.4 .7l.4 .6l.4 .6l.5 .4l.4 .4l.4 .3l.4 .3l1.7 1l1.7 .6l1.7 .4l1.6 .4l1.7 .2l1.7 .2l1.7 .1l1.6 .1l1.7 0l1.7 .1l1.7 0l1.6 0l1.7 0l1.7 .1l1.7 0l8.4 0l8.4 0l8.3 0l.5 0M373.2 233.2l.4 0l.4 .1l.4 0l.4 0l.5 .1l.4 .1l.4 .1l.4 .2l.4 .1l.4 .3l.5 .3l.4 .4l.4 .6l.4 .9l.4 1.4l.5 2.4l.4 4.3l.4 7.5l.4 12.1l.4 15.4l.5 14.1l.4 10.6l.4 6.3l.4 3.5l.4 1.9l.5 1.1l.4 .8l.4 .6l.4 .6l.4 .4l.5 .5l.4 .4l.4 .5l.4 .4l.4 .4l.5 .3l.4 .4l.4 .4l.4 .3l.4 .3l1.7 1.2l1.7 1.1l1.7 .9l1.6 .8l1.7 .7l1.7 .6l1.7 .6l1.6 .4l1.7 .4l1.7 .4l1.7 .3l1.7 .2l1.6 .3l1.7 .2l1.7 .1l8.4 .6l8.4 .3l8.4 .2M370.4 233.4l2 .3l.9 .3l.5 .1l.4 .2l.4 .1l.4 .3l.4 .3l.5 .3l.4 .5l.4 .5l.4 .8l.4 1l.5 1.3l.4 1.7l.4 2.2l.4 3.1l.4 3.9l.5 5l.4 6.1l.4 7.3l.4 8.2l.4 8.6l.5 8l.4 7.6l.4 6.8l.4 5.6l.4 4.6l.5 3.5l.4 2.7l.4 2l.4 1.5l.4 1.2l.4 .9l.5 .7l.4 .6l.4 .4l.4 .4l.4 .4l.5 .3l.4 .2l.4 .3l.4 .2l1.7 .8l1.7 .6l1.7 .5l1.6 .4l1.7 .4l1.7 .2l1.7 .3l1.6 .2l1.7 .1l1.7 .2l1.7 .1l1.7 .1l1.6 0l1.7 .1l1.7 .1l8.4 .1l8.4 .1l8.2 0M373.5 233.4l.5 .1l.4 .2l.4 .2l.4 .2l.4 .3l.4 .5l.5 .5l.4 .8l.4 .9l.4 1.3l.4 1.6l.5 2l.4 2.6l.4 3.1l.4 3.8l.4 4.6l.5 5.2l.4 5.9l.4 6.2l.4 6.5l.4 4.5l.5 4.4l.4 4.3l.4 3.8l.4 3.5l.4 3l.5 2.7l.4 2.2l.4 1.9l.4 1.6l.4 1.4l.5 1.2l.4 1l.4 .9l.4 .8l.4 .7l.4 .6l.5 .6l.4 .5l.4 .5l1.7 1.8l1.7 1.4l1.6 1.2l1.7 1.1l1.7 .9l1.7 .8l1.6 .7l1.7 .6l1.7 .6l1.7 .4l1.7 .4l1.6 .4l1.7 .3l1.7 .3l1.7 .2l8.4 .8l8.3 .5l8.1 .2M359.0 233.4l2 .1l2 .2l2 .3l2 .3l2 .5l2 .6l2.1 1l.5 .4l.4 .3l.4 .4l.4 .4l.5 .5l.4 .5l.4 .6l.4 .8l.4 .9l.5 1.1l.4 1.3l.4 1.7l.4 1.9l.4 2.4l.4 2.9l.5 3.3l.4 4l.4 4.5l.4 4.9l.4 5.2l.5 5.4l.4 5.4l.4 5.4l.4 5.1l.4 4.6l.5 4.1l.4 3.6l.4 3.1l.4 2.6l.4 2.1l.5 1.8l.4 1.6l.4 1.2l.4 1.1l.4 .9l.5 .9l.4 .7l.4 .6l.4 .5l.4 .5l.5 .5l1.6 1.5l1.7 1.1l1.7 .9l1.7 .6l1.6 .6l1.7 .4l1.7 .4l1.7 .3l1.7 .2l1.6 .2l1.7 .1l1.7 .1l1.7 .1l1.6 .1l1.7 .1l8.4 .1l8.4 .1l8 0M365.6 233.4l2 .2l2 .3l2 .5l2 .9l.6 .3l.5 .4l.4 .3l.4 .5l.4 .5l.4 .6l.5 .7l.4 .9l.4 1.1l.4 1.3l.4 1.6l.5 1.9l.4 2.3l.4 2.7l.4 3.3l.4 3.8l.4 4.4l.5 4.9l.4 5.3l.4 5.6l.4 5.7l.4 5.3l.5 5.2l.4 4.9l.4 4.5l.4 4l.4 3.4l.5 3l.4 2.5l.4 2.1l.4 1.7l.4 1.5l.5 1.2l.4 1l.4 .8l.4 .8l.4 .6l.5 .5l.4 .5l.4 .5l.4 .3l1.7 1.3l1.7 .9l1.6 .8l1.7 .6l1.7 .6l1.7 .4l1.7 .4l1.6 .3l1.7 .3l1.7 .2l1.7 .2l1.6 .2l1.7 .1l1.7 .1l1.7 .1l8.4 .3l8.4 .2l7.3 0M370.2 233.4l2 .3l2 .6l.1 0l.4 .2l.5 .3l.4 .2l.4 .3l.4 .4l.4 .4l.5 .6l.4 .6l.4 .8l.4 1.1l.4 1.3l.5 1.7l.4 2.2l.4 2.9l.4 3.8l.4 4.8l.5 5.9l.4 6.9l.4 7.8l.4 8l.4 7.6l.5 7.3l.4 6.5l.4 5.5l.4 4.5l.4 3.5l.5 2.8l.4 2.2l.4 1.7l.4 1.4l.4 1.1l.4 .9l.5 .8l.4 .6l.4 .6l.4 .5l.4 .5l.5 .4l.4 .4l.4 .3l1.7 1.1l1.7 .7l1.6 .5l1.7 .4l1.7 .3l1.7 .2l1.6 .1l1.7 .1l1.7 .1l1.7 0l1.7 .1l1.6 0l1.7 0l1.7 0l1.7 .1l8.4 0l8.3 0l7.3 0M375.0 233.2l.4 .1l.4 0l.4 .1l.4 .1l.5 .1l.4 .2l.4 .3l.4 .3l.4 .5l.4 .7l.5 1l.4 1.4l.4 1.9l.4 2.7l.4 3.7l.5 4.9l.4 6.3l.4 7.7l.4 8.7l.4 9.4l.5 8.9l.4 8.2l.4 7.2l.4 5.9l.4 4.7l.5 3.5l.4 2.5l.4 1.9l.4 1.4l.4 1l.5 .8l.4 .5l.4 .4l.4 .4l.4 .2l.5 .3l.4 .2l.4 .1l.4 .2l.4 .1l1.7 .3l1.7 .3l1.7 .1l1.6 .2l1.7 0l1.7 .1l1.7 0l1.7 .1l1.6 0l1.7 0l1.7 0l1.7 0l1.6 0l1.7 0l1.7 0l8.4 0l8.4 0l6.6 0M358.8 233.4l2 .1l2 .1l2 .2l2.1 .2l2 .3l2 .3l2 .5l2 .6l1.2 .5l.4 .2l.4 .2l.4 .3l.4 .3l.5 .3l.4 .5l.4 .5l.4 .6l.4 .8l.5 1l.4 1.3l.4 1.7l.4 2.1l.4 2.8l.5 3.4l.4 4.2l.4 5.1l.4 5.8l.4 6.3l.5 6.7l.4 6.7l.4 6.5l.4 6l.4 5.2l.4 4.3l.5 3.7l.4 2.9l.4 2.3l.4 1.9l.4 1.4l.5 1.2l.4 1l.4 .9l.4 .7l.4 .6l.5 .5l.4 .5l.4 .4l.4 .4l.4 .4l1.7 1.3l1.7 1.1l1.7 1l1.6 .9l1.7 .7l1.7 .7l1.7 .6l1.7 .5l1.6 .5l1.7 .4l1.7 .3l1.7 .3l1.6 .3l1.7 .3l1.7 .2l8.4 .7l8.4 .4l5.5 .2M359.1 233.4l2.1 .1l2 .2l2 .2l2 .2l2 .4l2 .4l2 .6l2 .9l2.1 1.1l.1 0l.4 .3l.4 .3l.4 .3l.5 .4l.4 .4l.4 .4l.4 .4l.4 .5l.5 .6l.4 .7l.4 .9l.4 1.1l.4 1.5l.4 2l.5 2.7l.4 3.7l.4 4.9l.4 6.3l.4 7.4l.5 8l.4 7.9l.4 7.3l.4 6.2l.4 4.8l.5 3.7l.4 2.7l.4 1.9l.4 1.5l.4 1.2l.5 .9l.4 .8l.4 .6l.4 .6l.4 .5l.5 .5l.4 .5l.4 .4l.4 .5l.4 .4l.5 .3l1.6 1.5l1.7 1.2l1.7 1l1.7 1l1.6 .8l1.7 .7l1.7 .6l1.7 .5l1.7 .4l1.6 .4l1.7 .4l1.7 .3l1.7 .2l1.6 .3l1.7 .2l8.4 .6l8.4 .3l4.2 .1M371.6 233.4l2 .2l2 .2l2 .3l2 .4l.2 .1l.5 .1l.4 .1l.4 .2l.4 .1l.4 .2l.5 .2l.4 .2l.4 .2l.4 .2l.4 .3l.5 .4l.4 .4l.4 .7l.4 1l.4 1.6l.5 2.9l.4 4.9l.4 8.1l.4 11.9l.4 14.5l.4 14.9l.5 12.3l.4 8.5l.4 5.4l.4 3.2l.4 2l.5 1.2l.4 .9l.4 .7l.4 .5l.4 .4l.5 .4l.4 .3l.4 .3l.4 .2l.4 .3l.5 .2l.4 .2l.4 .2l.4 .1l1.7 .5l1.7 .3l1.7 .3l1.6 .1l1.7 .1l1.7 .1l1.7 0l1.6 0l1.7 .1l1.7 0l1.7 0l1.6 0l1.7 0l1.7 0l1.7 0l8.4 0l8.4 0l1.7 0M359.5 233.4l2 .1l2.1 .1l2 .2l2 .2l2 .3l2 .4l2 .5l2 .6l2 .8l2.1 1.1l.4 .3l.4 .3l.4 .3l.5 .3l.4 .3l.4 .3l.4 .4l.4 .4l.5 .4l.4 .4l.4 .5l.4 .5l.4 .6l.5 .6l.4 .8l.4 1.2l.4 1.8l.4 3.4l.5 6l.4 10.1l.4 13.4l.4 13.3l.4 9.9l.5 6l.4 3.2l.4 1.8l.4 1.1l.4 .8l.5 .6l.4 .6l.4 .5l.4 .5l.4 .5l.4 .5l.5 .4l.4 .4l.4 .5l.4 .4l.4 .4l.5 .4l.4 .4l1.7 1.4l1.6 1.3l1.7 1.2l1.7 1l1.7 .9l1.6 .9l1.7 .7l1.7 .7l1.7 .6l1.7 .5l1.6 .5l1.7 .5l1.7 .3l1.7 .4l1.6 .3l8.4 1.1l8.4 .7l1.5 .1M381.5 233.4l.4 0l.5 .1l.4 .1l.4 .1l.4 .2l.4 .1l.5 .3l.4 .3l.4 .3l.4 .5l.4 .6l.5 .9l.4 1.1l.4 1.7l.4 2.4l.4 3.5l.5 5.2l.4 7.3l.4 9.2l.4 10.3l.4 8.5l.5 7.5l.4 5.6l.4 3.9l.4 2.7l.4 1.9l.4 1.4l.5 1.2l.4 .9l.4 .8l.4 .8l.4 .7l.5 .7l.4 .7l.4 .6l.4 .6l.4 .6l.5 .6l.4 .5l.4 .6l1.7 1.9l1.7 1.8l1.6 1.5l1.7 1.3l1.7 1.2l1.7 1l1.6 1l1.7 .8l1.7 .7l1.7 .6l1.7 .5l1.6 .5l1.7 .4l1.7 .4l1.7 .3l8.4 1.1l8.3 .6l.1 0M381.7 233.1l.4 0l.4 0l.4 0l.4 .1l.5 0l.4 .1l.4 0l.4 .2l.4 .2l.5 .3l.4 .5l.4 .8l.4 1.4l.4 2.1l.4 3.4l.5 5.1l.4 7.7l.4 10.5l.4 13.3l.4 14.7l.5 10.6l.4 9.2l.4 7.2l.4 5l.4 3.3l.5 2.2l.4 1.3l.4 .9l.4 .5l.4 .4l.5 .3l.4 .2l.4 .2l.4 .2l.4 .1l.5 .1l.4 .2l.4 .1l.4 .1l.4 .1l1.7 .4l1.7 .3l1.7 .4l1.6 .2l1.7 .3l1.7 .2l1.7 .2l1.7 .1l1.6 .2l1.7 .1l1.7 .1l1.7 .1l1.6 .1l1.7 .1l1.7 .1l8.4 .2l8.3 .2M366.0 233.4l2 .1l2 .1l2 .2l2.1 .2l2 .2l2 .4l2 .4l2 .5l2 .7l.8 .4l.5 .2l.4 .2l.4 .2l.4 .2l.4 .2l.4 .3l.5 .2l.4 .3l.4 .3l.4 .3l.4 .3l.5 .4l.4 .3l.4 .5l.4 .6l.4 1.1l.5 2.1l.4 4.8l.4 9.8l.4 15.2l.4 15.4l.5 10.2l.4 5.1l.4 2.5l.4 1.4l.4 1l.5 .8l.4 .7l.4 .7l.4 .7l.4 .6l.5 .6l.4 .7l.4 .6l.4 .5l.4 .6l.5 .6l.4 .5l.4 .5l.4 .5l1.7 1.9l1.7 1.8l1.6 1.5l1.7 1.4l1.7 1.2l1.7 1.1l1.7 1.1l1.6 .9l1.7 .8l1.7 .7l1.7 .7l1.6 .5l1.7 .6l1.7 .5l1.7 .4l8.4 1.6l5 .6M375.7 233.4l2 .2l2 .2l2 .3l2.1 .4l1.6 .5l.4 .2l.4 .2l.5 .1l.4 .2l.4 .3l.4 .2l.4 .2l.5 .3l.4 .3l.4 .3l.4 .4l.4 .4l.5 .4l.4 .5l.4 .8l.4 1.4l.4 2.9l.5 6.7l.4 13.8l.4 21.4l.4 21.7l.4 14l.4 6.9l.5 3.1l.4 1.5l.4 .9l.4 .7l.4 .5l.5 .4l.4 .4l.4 .4l.4 .3l.4 .3l.5 .3l.4 .2l.4 .2l.4 .2l.4 .2l.5 .2l.4 .1l1.7 .5l1.6 .3l1.7 .3l1.7 .1l1.7 .1l1.6 .1l1.7 0l1.7 .1l1.7 0l1.7 0l1.6 0l1.7 0l1.7 0l1.7 0l1.6 0l8.4 0l4.6 0M307.4 233.1H385.4"/>
<rect x="290.9" y="219.8" width="167.7" height="133.6" fill="none" stroke="#000" stroke-width="1.9"/>
<text x="307.4" y="365.4" font-size="10.6" text-anchor="middle">0</text>
<text x="340.95" y="365.4" font-size="10.6" text-anchor="middle">1</text>
<text x="374.5" y="365.4" font-size="10.6" text-anchor="middle">2</text>
<text x="408.05" y="365.4" font-size="10.6" text-anchor="middle">3</text>
<text x="441.6" y="365.4" font-size="10.6" text-anchor="middle">4</text>
<path d="M307.4 353.4 v-3 M324.17 353.4 v-1.8 M340.95 353.4 v-3 M357.72 353.4 v-1.8 M374.5 353.4 v-3 M391.27 353.4 v-1.8 M408.05 353.4 v-3 M424.82 353.4 v-1.8 M441.6 353.4 v-3 M290.9 233.1 h3 M290.9 340.2 h3" stroke="#000" stroke-width="1.3" fill="none"/>
<text x="287.4" y="237" font-size="11.2" text-anchor="end">4</text>
<text x="287.4" y="344.1" font-size="11.2" text-anchor="end">0</text>
<text x="259.3" y="220.7" font-size="12.5">e</text>
<text x="380.4" y="380.9" font-size="12.6" text-anchor="middle" textLength="38.6" lengthAdjust="spacingAndGlyphs">V<tspan font-size="8.5" dy="2.8">in</tspan><tspan dy="-2.8"> (V)</tspan></text>
<text transform="translate(277.7 290.8) rotate(-90)" font-size="12" text-anchor="middle" textLength="37.6" lengthAdjust="spacingAndGlyphs">V<tspan font-size="7.5" dy="2.4">out</tspan><tspan dy="-2.4"> (V)</tspan></text>
<path fill="none" stroke="#5566E0" stroke-width="0.37" d="M330.8 431.9l2 .1l2 .2l2.1 .1l2 .3l2 .3l2 .4l2 .5l2 .7l.3 .1l.5 .2l.4 .2l.4 .2l.4 .2l.4 .2l.5 .2l.4 .3l.4 .3l.4 .2l.4 .3l.5 .3l.4 .4l.4 .4l.4 .5l.4 .7l.5 1.3l.4 2.8l.4 6.6l.4 13.8l.4 21.6l.5 21.4l.4 13.5l.4 6.4l.4 2.7l.4 1.1l.5 .5l.4 .4l.4 .3l.4 .2l.4 .2l.4 .2l.5 .2l.4 .2l.4 .2l.4 .1l.4 .2l.5 .2l.4 .1l.4 .2l.4 .1l.4 .1l1.7 .5l1.7 .5l1.7 .4l1.7 .3l1.6 .2l1.7 .3l1.7 .2l1.7 .2l1.6 .1l1.7 .2l1.7 .1l1.7 .1l1.6 0l1.7 .1l1.7 .1l8.4 .2l8.4 .1l8.4 0l8.4 0l8.3 .1l8.4 0l2 0M348.1 431.9l.4 .1l.5 .1l.4 .1l.4 .1l.4 .1l.4 .2l.5 .3l.4 .3l.4 .3l.4 .5l.4 .5l.5 .7l.4 .9l.4 1.1l.4 1.4l.4 2.1l.5 3.5l.4 7.1l.4 14.5l.4 23l.4 20.4l.5 11.6l.4 4.6l.4 1.7l.4 .7l.4 .3l.5 .2l.4 .2l.4 .1l.4 .2l.4 .2l.5 .1l.4 .2l.4 .1l.4 .1l.4 .2l.4 .1l.5 .1l.4 .1l.4 .1l.4 .1l1.7 .5l1.7 .3l1.7 .3l1.6 .3l1.7 .2l1.7 .2l1.7 .2l1.6 .2l1.7 .1l1.7 .2l1.7 .1l1.7 .1l1.6 0l1.7 .1l1.7 .1l8.4 .2l8.4 .1l8.3 .1l8.4 0l8.4 0l8.4 0l1.1 0M326.1 431.9l2 .1l2 .1l2 .2l2 .2l2 .3l2 .3l2.1 .5l2 .5l2 .8l2 .9l2 1.3l1.1 .8l.4 .3l.4 .4l.5 .4l.4 .4l.4 .4l.4 .5l.4 .5l.5 .5l.4 .5l.4 .6l.4 .7l.4 .8l.4 .9l.5 1.3l.4 1.9l.4 3l.4 4.8l.4 7.5l.5 10.9l.4 13.2l.4 12.9l.4 10.4l.4 7.1l.5 4.3l.4 2.5l.4 1.5l.4 1l.4 .6l.5 .5l.4 .4l.4 .3l.4 .4l.4 .3l.5 .2l.4 .3l.4 .3l.4 .2l.4 .3l.5 .2l.4 .2l.4 .2l1.7 .8l1.6 .7l1.7 .6l1.7 .5l1.7 .4l1.7 .4l1.6 .3l1.7 .3l1.7 .3l1.7 .2l1.6 .2l1.7 .1l1.7 .2l1.7 .1l1.7 .1l8.3 .3l8.4 .2l8.4 .1l8.4 0l8.4 0l8.3 0M352.4 431.7l.5 0l.4 0l.4 0l.4 .1l.4 0l.4 .1l.5 .1l.4 .1l.4 .1l.4 .2l.4 .2l.5 .3l.4 .3l.4 .6l.4 .8l.4 1.6l.5 3.1l.4 6.4l.4 12.5l.4 18.4l.4 17.6l.5 11.8l.4 6l.4 2.9l.4 1.5l.4 1l.5 .7l.4 .7l.4 .6l.4 .6l.4 .5l.5 .5l.4 .5l.4 .5l.4 .5l.4 .5l.5 .4l.4 .4l.4 .4l.4 .4l.4 .4l1.7 1.3l1.7 1.2l1.7 1l1.6 .8l1.7 .7l1.7 .6l1.7 .6l1.6 .4l1.7 .4l1.7 .3l1.7 .3l1.7 .3l1.6 .2l1.7 .2l1.7 .1l8.4 .5l8.4 .2l8.4 .1l8.3 .1l8.4 0l5.2 0M342.9 431.9l2 .2l2 .2l2 .3l2 .4l1.9 .6l.4 .1l.4 .2l.4 .2l.5 .2l.4 .2l.4 .3l.4 .2l.4 .3l.5 .3l.4 .3l.4 .3l.4 .4l.4 .4l.5 .5l.4 .6l.4 .8l.4 1.9l.4 5l.5 13.5l.4 25.7l.4 25.6l.4 13.2l.4 4.8l.4 1.6l.5 .7l.4 .5l.4 .3l.4 .3l.4 .3l.5 .2l.4 .3l.4 .2l.4 .3l.4 .2l.5 .2l.4 .2l.4 .2l.4 .1l.4 .2l.5 .2l.4 .1l1.7 .5l1.6 .5l1.7 .3l1.7 .3l1.7 .3l1.6 .2l1.7 .1l1.7 .1l1.7 .1l1.7 .1l1.6 .1l1.7 .1l1.7 0l1.7 0l1.6 .1l8.4 .1l8.4 0l8.4 0l8.4 0l8.4 0l4.8 0M353.9 431.6l.4 .1l.5 0l.4 0l.4 0l.4 .1l.4 0l.4 .1l.5 .1l.4 .1l.4 .2l.4 .2l.4 .3l.5 .4l.4 .5l.4 .7l.4 1.2l.4 2.4l.5 6l.4 15.2l.4 27.9l.4 26.1l.4 13.4l.5 4.6l.4 1.5l.4 .5l.4 .3l.4 .2l.5 .1l.4 .2l.4 .1l.4 .2l.4 .1l.5 .1l.4 .2l.4 .1l.4 .1l.4 .1l.4 .1l.5 .1l.4 .1l.4 .1l1.7 .3l1.7 .3l1.6 .3l1.7 .2l1.7 .2l1.7 .1l1.7 .1l1.6 .1l1.7 .1l1.7 .1l1.7 .1l1.6 0l1.7 .1l1.7 0l1.7 .1l8.4 .1l8.3 0l8.4 0l8.4 .1l8.4 0l3.7 0M350.7 431.9l2 .3l1.4 .2l.4 .1l.4 .2l.4 .1l.5 .1l.4 .2l.4 .2l.4 .2l.4 .2l.5 .3l.4 .3l.4 .4l.4 .5l.4 .7l.5 .9l.4 1.6l.4 2.6l.4 4.5l.4 7.7l.4 11.8l.5 14.8l.4 15l.4 12l.4 8l.4 4.8l.5 2.9l.4 1.7l.4 1.3l.4 .9l.4 .7l.5 .6l.4 .6l.4 .5l.4 .4l.4 .4l.5 .4l.4 .4l.4 .3l.4 .3l.4 .2l.5 .3l.4 .2l1.7 .8l1.6 .5l1.7 .4l1.7 .3l1.7 .2l1.6 .1l1.7 .1l1.7 .1l1.7 0l1.7 .1l1.6 0l1.7 0l1.7 0l1.7 .1l1.6 0l8.4 0l8.4 0l8.4 0l8.4 0l8.4 0l3.5 0M346.2 431.9l2.1 .2l2 .3l2 .5l2 .8l1.2 .7l.4 .2l.4 .3l.5 .4l.4 .4l.4 .4l.4 .4l.4 .6l.4 .5l.5 .7l.4 .7l.4 .8l.4 1.1l.4 1.3l.5 1.7l.4 2.5l.4 3.7l.4 5.8l.4 8.7l.5 12l.4 14l.4 12.9l.4 10.6l.4 7.3l.5 4.5l.4 2.6l.4 1.4l.4 .9l.4 .5l.5 .3l.4 .3l.4 .2l.4 .1l.4 .2l.5 .1l.4 .1l.4 .2l.4 .1l.4 .1l.4 .1l.5 .1l.4 .1l1.7 .4l1.6 .3l1.7 .3l1.7 .3l1.7 .3l1.7 .2l1.6 .2l1.7 .1l1.7 .2l1.7 .1l1.6 .1l1.7 .1l1.7 .1l1.7 .1l1.6 0l8.4 .3l8.4 .1l8.4 .1l8.4 0l8.4 .1l2.1 0M341.2 431.9l2 .1l2.1 .2l2 .3l2 .3l2 .5l2 .6l2 1l1.1 .6l.4 .3l.4 .3l.4 .3l.5 .3l.4 .4l.4 .4l.4 .4l.4 .4l.5 .5l.4 .5l.4 .6l.4 .6l.4 .6l.5 .8l.4 .8l.4 1.3l.4 2.4l.4 5.6l.5 12.9l.4 22l.4 21.7l.4 12.5l.4 5.2l.5 2.1l.4 .9l.4 .6l.4 .5l.4 .4l.4 .4l.5 .3l.4 .4l.4 .3l.4 .3l.4 .2l.5 .3l.4 .2l.4 .2l.4 .2l.4 .2l.5 .2l.4 .2l1.7 .6l1.6 .4l1.7 .4l1.7 .3l1.7 .2l1.6 .1l1.7 .1l1.7 .1l1.7 .1l1.7 .1l1.6 0l1.7 .1l1.7 0l1.7 0l1.6 0l8.4 .1l8.4 0l8.4 0l8.4 0l8.4 0l1.2 0M356.5 431.6l.5 0l.4 0l.4 0l.4 .1l.4 0l.4 0l.5 .1l.4 0l.4 .1l.4 .1l.4 .2l.5 .3l.4 .4l.4 .6l.4 .9l.4 1.5l.5 2.9l.4 6.6l.4 15.8l.4 28.2l.4 24.5l.5 12.2l.4 4.1l.4 1.3l.4 .5l.4 .3l.5 .2l.4 .1l.4 .2l.4 .1l.4 .2l.5 .1l.4 .1l.4 .2l.4 .1l.4 .1l.4 .1l.5 .1l.4 .1l.4 .1l.4 0l1.7 .3l1.7 .3l1.7 .2l1.6 .1l1.7 .2l1.7 .1l1.7 .1l1.6 0l1.7 .1l1.7 0l1.7 .1l1.7 0l1.6 0l1.7 0l1.7 .1l8.4 0l8.4 0l8.4 0l8.3 0l8.4 0l1.1 0M352.4 431.9l2 .2l2 .4l1.5 .4l.5 .2l.4 .1l.4 .2l.4 .2l.4 .3l.5 .2l.4 .3l.4 .3l.4 .4l.4 .5l.5 .6l.4 .8l.4 1.1l.4 1.6l.4 2.4l.5 3.9l.4 6l.4 9l.4 12.2l.4 14.1l.5 13.6l.4 11.4l.4 8.3l.4 5.3l.4 3.3l.5 2l.4 1.1l.4 .7l.4 .5l.4 .3l.4 .3l.5 .2l.4 .1l.4 .2l.4 .1l.4 .1l.5 .2l.4 .1l.4 .1l.4 .1l.4 .1l1.7 .3l1.7 .3l1.7 .2l1.7 .2l1.6 .2l1.7 .1l1.7 .1l1.7 .1l1.6 0l1.7 .1l1.7 .1l1.7 0l1.7 0l1.6 0l1.7 .1l8.4 0l8.4 0l8.4 .1l8.4 0l8 0M358.3 431.9l.7 .1l.4 .1l.4 .1l.5 .2l.4 .2l.4 .2l.4 .2l.4 .3l.5 .4l.4 .4l.4 .5l.4 .7l.4 .8l.5 .9l.4 1.2l.4 1.4l.4 1.8l.4 2.6l.5 4.9l.4 11.7l.4 23.6l.4 20.9l.4 8.8l.5 2.6l.4 .9l.4 .5l.4 .4l.4 .4l.4 .4l.5 .3l.4 .4l.4 .3l.4 .4l.4 .3l.5 .3l.4 .3l.4 .4l.4 .3l.4 .3l.5 .3l.4 .2l.4 .3l1.7 1.1l1.7 1l1.6 .8l1.7 .9l1.7 .7l1.7 .7l1.6 .6l1.7 .6l1.7 .5l1.7 .5l1.7 .5l1.6 .4l1.7 .3l1.7 .4l1.7 .3l8.4 1.2l8.3 .8l8.4 .5l8.4 .3l7 .2M342.2 431.9l2.1 .1l2 .2l2 .1l2 .3l2 .3l2 .4l2 .5l2.1 .7l1.1 .5l.4 .1l.4 .3l.4 .2l.4 .2l.5 .3l.4 .2l.4 .3l.4 .3l.4 .3l.5 .3l.4 .4l.4 .4l.4 .4l.4 .5l.5 .6l.4 1.1l.4 2.4l.4 5.9l.4 13.3l.5 22.2l.4 22.1l.4 13.3l.4 5.8l.4 2.3l.4 1.1l.5 .6l.4 .4l.4 .3l.4 .3l.4 .3l.5 .3l.4 .3l.4 .2l.4 .2l.4 .2l.5 .2l.4 .2l.4 .2l.4 .2l.4 .1l.5 .1l1.6 .5l1.7 .4l1.7 .3l1.7 .2l1.6 .2l1.7 .1l1.7 .1l1.7 .1l1.7 0l1.6 .1l1.7 0l1.7 .1l1.7 0l1.6 0l1.7 0l8.4 0l8.4 0l8.4 .1l8.4 0l6.5 0M360.0 431.6l.5 0l.4 0l.4 0l.4 .1l.4 0l.5 0l.4 .1l.4 .1l.4 .1l.4 .2l.5 .2l.4 .3l.4 .5l.4 .6l.4 1l.5 1.5l.4 2.6l.4 5.8l.4 14.5l.4 27.8l.5 23.9l.4 10.6l.4 3.2l.4 1l.4 .5l.4 .3l.5 .2l.4 .3l.4 .2l.4 .2l.4 .3l.5 .2l.4 .2l.4 .2l.4 .1l.4 .2l.5 .2l.4 .1l.4 .2l.4 .1l.4 .1l1.7 .5l1.7 .4l1.7 .3l1.6 .2l1.7 .3l1.7 .1l1.7 .2l1.7 .1l1.6 .1l1.7 .1l1.7 0l1.7 .1l1.6 0l1.7 .1l1.7 0l8.4 .1l8.4 0l8.4 0l8.4 0l5.9 0M362.2 431.6l.4 0l.5 .1l.4 0l.4 0l.4 .1l.4 0l.5 .1l.4 .1l.4 .2l.4 .2l.4 .3l.5 .5l.4 .6l.4 .9l.4 1.3l.4 2.3l.5 4.2l.4 8.4l.4 16.1l.4 23.6l.4 20.1l.4 12.4l.5 5.6l.4 2.3l.4 1.1l.4 .5l.4 .4l.5 .4l.4 .3l.4 .3l.4 .2l.4 .2l.5 .3l.4 .2l.4 .2l.4 .2l.4 .1l.5 .2l.4 .2l.4 .1l.4 .1l1.7 .5l1.7 .4l1.7 .2l1.6 .3l1.7 .1l1.7 .2l1.7 .1l1.6 0l1.7 .1l1.7 0l1.7 .1l1.6 0l1.7 0l1.7 0l1.7 .1l8.4 0l8.4 0l8.3 0l8.4 0l3.8 0M362.5 431.9l.5 .1l.4 .1l.4 .1l.4 .2l.4 .1l.5 .3l.4 .3l.4 .4l.4 .5l.4 .7l.4 .9l.5 1.3l.4 1.8l.4 2.6l.4 3.7l.4 5.1l.5 7.1l.4 9.1l.4 10.8l.4 11.7l.4 9.5l.5 8.5l.4 6.8l.4 4.9l.4 3.4l.4 2.3l.5 1.5l.4 1l.4 .7l.4 .4l.4 .4l.5 .2l.4 .2l.4 .2l.4 .2l.4 .1l.5 .1l.4 .2l.4 .1l.4 .1l1.7 .4l1.7 .3l1.6 .4l1.7 .2l1.7 .3l1.7 .2l1.7 .1l1.6 .2l1.7 .1l1.7 .1l1.7 .1l1.6 .1l1.7 .1l1.7 .1l1.7 0l1.7 .1l8.3 .1l8.4 .1l8.4 .1l8.4 0l2.2 0M363.3 431.6l.4 0l.4 0l.4 0l.5 0l.4 0l.4 0l.4 .1l.4 0l.5 0l.4 .1l.4 .1l.4 .2l.4 .3l.5 .6l.4 1.1l.4 2.2l.4 4.5l.4 8.3l.5 14.1l.4 18.6l.4 16.7l.4 12.2l.4 7.2l.4 3.8l.5 2l.4 1.1l.4 .8l.4 .5l.4 .5l.5 .5l.4 .4l.4 .3l.4 .4l.4 .3l.5 .3l.4 .3l.4 .3l.4 .2l.4 .3l.5 .2l1.6 .8l1.7 .7l1.7 .5l1.7 .4l1.6 .3l1.7 .3l1.7 .2l1.7 .1l1.7 .1l1.6 .1l1.7 .1l1.7 .1l1.7 0l1.6 .1l1.7 0l1.7 0l8.4 .1l8.4 0l8.4 0l8.3 .1l1.5 0M344.8 431.9l2 .1l2 .2l2 .2l2 .3l2 .4l2 .6l2 .7l2.1 1l2 1.4l.4 .4l.4 .4l.5 .4l.4 .4l.4 .5l.4 .5l.4 .5l.4 .5l.5 .6l.4 .7l.4 .6l.4 .7l.4 .8l.5 .8l.4 1l.4 1l.4 1.5l.4 2.5l.5 5.4l.4 12l.4 20.2l.4 19.5l.4 11.2l.5 4.7l.4 1.9l.4 .8l.4 .6l.4 .4l.5 .4l.4 .4l.4 .3l.4 .3l.4 .3l.5 .3l.4 .3l.4 .3l.4 .2l.4 .3l.4 .2l.5 .3l.4 .2l1.7 .8l1.6 .6l1.7 .6l1.7 .4l1.7 .4l1.7 .3l1.6 .3l1.7 .2l1.7 .2l1.7 .2l1.6 .1l1.7 .1l1.7 .1l1.7 .1l1.6 .1l1.7 0l8.4 .2l8.4 .1l8.4 0l8.4 0l1.4 0M363.5 431.6l.4 0l.5 .1l.4 0l.4 0l.4 0l.4 .1l.5 .1l.4 .1l.4 .1l.4 .2l.4 .4l.5 .5l.4 .9l.4 1.3l.4 2.3l.4 3.8l.5 6.2l.4 9.6l.4 13.1l.4 15.2l.4 12.9l.5 10.6l.4 7.3l.4 4.6l.4 2.7l.4 1.5l.5 .9l.4 .6l.4 .4l.4 .4l.4 .2l.4 .2l.5 .2l.4 .2l.4 .2l.4 .2l.4 .2l.5 .1l.4 .2l.4 .2l1.7 .5l1.7 .5l1.6 .5l1.7 .4l1.7 .3l1.7 .4l1.6 .2l1.7 .3l1.7 .2l1.7 .2l1.7 .2l1.6 .1l1.7 .1l1.7 .2l1.7 .1l1.6 0l8.4 .4l8.4 .1l8.4 .1l8.4 .1l1.2 0M363.6 431.9l.4 .1l.4 0l.4 .1l.5 .1l.4 .1l.4 .1l.4 .2l.4 .2l.5 .2l.4 .3l.4 .3l.4 .5l.4 .7l.4 1l.5 1.5l.4 2.3l.4 3.6l.4 5.3l.4 7.5l.5 9.6l.4 11.1l.4 10.7l.4 9.4l.4 7.3l.5 5.1l.4 3.5l.4 2.4l.4 1.6l.4 1.2l.5 .9l.4 .7l.4 .6l.4 .6l.4 .5l.5 .5l.4 .4l.4 .5l.4 .4l.4 .4l.5 .4l.4 .4l1.6 1.4l1.7 1.2l1.7 1l1.7 1l1.7 .7l1.6 .7l1.7 .6l1.7 .6l1.7 .4l1.6 .4l1.7 .4l1.7 .3l1.7 .2l1.7 .2l1.6 .2l1.7 .2l8.4 .6l8.4 .3l8.4 .1l8.4 .1l.7 0M353.5 431.9l2 .2l2 .3l2.1 .4l2 .6l2 .9l.5 .3l.4 .3l.4 .3l.5 .4l.4 .3l.4 .4l.4 .5l.4 .5l.5 .5l.4 .6l.4 .6l.4 .8l.4 .9l.5 1.1l.4 1.5l.4 2l.4 3.1l.4 4.8l.5 7.4l.4 10.3l.4 12.2l.4 12l.4 9.9l.5 7l.4 4.5l.4 2.8l.4 1.9l.4 1.3l.5 1l.4 .8l.4 .8l.4 .6l.4 .7l.4 .5l.5 .6l.4 .5l.4 .5l.4 .5l.4 .4l.5 .4l.4 .4l1.7 1.5l1.6 1.1l1.7 1l1.7 .8l1.7 .6l1.6 .5l1.7 .5l1.7 .3l1.7 .3l1.7 .2l1.6 .2l1.7 .2l1.7 .1l1.7 .1l1.6 .1l1.7 .1l8.4 .2l8.4 .1l8.4 0l8.4 0l.6 0M364.6 431.6l.5 0l.4 0l.4 0l.4 0l.4 0l.4 0l.5 .1l.4 0l.4 0l.4 .1l.4 .1l.5 .2l.4 .3l.4 .6l.4 1l.4 2l.5 4.2l.4 8.6l.4 15.3l.4 21.3l.4 19l.5 13.1l.4 6.9l.4 3.2l.4 1.5l.4 .7l.5 .4l.4 .3l.4 .3l.4 .2l.4 .2l.5 .2l.4 .1l.4 .2l.4 .2l.4 .2l.4 .1l.5 .2l.4 .1l.4 .2l1.7 .5l1.7 .5l1.6 .4l1.7 .3l1.7 .4l1.7 .2l1.7 .3l1.6 .2l1.7 .2l1.7 .1l1.7 .2l1.6 .1l1.7 .1l1.7 .1l1.7 .1l1.6 0l8.4 .3l8.4 .1l8.4 .1l8.4 0l.1 0M353.6 431.9l2 .2l2 .2l2 .2l2 .4l2 .6l1.2 .5l.5 .2l.4 .2l.4 .2l.4 .2l.4 .3l.5 .2l.4 .3l.4 .4l.4 .3l.4 .5l.5 .5l.4 .7l.4 .9l.4 1.4l.4 2.1l.5 3.3l.4 5.3l.4 7.9l.4 10.9l.4 12.7l.5 12.9l.4 11.1l.4 8.1l.4 5.5l.4 3.5l.4 2.3l.5 1.5l.4 1.1l.4 .8l.4 .6l.4 .5l.5 .5l.4 .4l.4 .4l.4 .3l.4 .3l.5 .3l.4 .3l.4 .2l.4 .3l1.7 .7l1.7 .6l1.7 .4l1.6 .3l1.7 .2l1.7 .2l1.7 .1l1.6 .1l1.7 .1l1.7 0l1.7 0l1.6 .1l1.7 0l1.7 0l1.7 0l1.7 0l8.3 0l8.4 0l8.4 0l8.3 0M365.9 431.6l.5 0l.4 0l.4 0l.4 0l.4 .1l.5 0l.4 0l.4 .1l.4 .1l.4 .1l.4 .2l.5 .3l.4 .4l.4 .6l.4 1l.4 1.8l.5 3.4l.4 7.3l.4 15.4l.4 24.4l.4 19.9l.5 11.1l.4 4.4l.4 1.5l.4 .7l.4 .4l.5 .3l.4 .2l.4 .2l.4 .3l.4 .2l.5 .2l.4 .2l.4 .2l.4 .2l.4 .2l.5 .1l.4 .2l.4 .2l.4 .1l1.7 .6l1.7 .6l1.6 .4l1.7 .4l1.7 .4l1.7 .3l1.7 .3l1.6 .2l1.7 .2l1.7 .2l1.7 .2l1.6 .1l1.7 .1l1.7 .1l1.7 .1l1.6 .1l8.4 .3l8.4 .2l8.4 0l7.2 .1M365.3 431.9l2 .4l.4 .1l.5 .1l.4 .2l.4 .1l.4 .2l.4 .3l.5 .2l.4 .4l.4 .3l.4 .5l.4 .5l.5 .7l.4 .9l.4 1.1l.4 1.7l.4 2.4l.5 3.8l.4 6.1l.4 9.4l.4 13.1l.4 15.5l.4 14.2l.5 11.3l.4 7.6l.4 4.6l.4 2.5l.4 1.4l.5 .8l.4 .4l.4 .3l.4 .2l.4 .1l.5 .1l.4 .1l.4 .1l.4 .1l.4 .1l.5 .1l.4 .1l.4 .1l.4 0l1.7 .3l1.7 .3l1.7 .2l1.6 .2l1.7 .1l1.7 .2l1.7 .1l1.6 .1l1.7 .1l1.7 .1l1.7 .1l1.6 0l1.7 .1l1.7 .1l1.7 0l8.4 .1l8.4 .1l8.3 .1l7.1 0M368.2 431.9l.7 .1l.4 .1l.4 .1l.4 .2l.5 .1l.4 .2l.4 .3l.4 .3l.4 .3l.5 .5l.4 .5l.4 .6l.4 .8l.4 .9l.5 1.2l.4 1.4l.4 2l.4 3.3l.4 6.3l.5 13.6l.4 22.6l.4 20.7l.4 11.3l.4 4.6l.5 1.9l.4 1.1l.4 .8l.4 .7l.4 .6l.5 .6l.4 .5l.4 .5l.4 .4l.4 .5l.4 .4l.5 .3l.4 .4l.4 .3l.4 .3l.4 .3l.5 .2l1.6 .9l1.7 .7l1.7 .5l1.7 .4l1.7 .2l1.6 .3l1.7 .1l1.7 .1l1.7 .1l1.6 .1l1.7 .1l1.7 0l1.7 0l1.7 .1l1.6 0l8.4 0l8.4 0l8.4 0l5.9 0M361.1 431.9l2 .2l2 .2l2 .4l2 .6l.6 .2l.4 .2l.4 .2l.4 .3l.5 .3l.4 .4l.4 .4l.4 .6l.4 .7l.5 .8l.4 1.1l.4 1.5l.4 1.8l.4 2.4l.5 3.1l.4 4l.4 4.9l.4 5.8l.4 6.9l.5 7.5l.4 7.9l.4 7.6l.4 7.2l.4 6.5l.4 5.6l.5 4.6l.4 3.6l.4 2.9l.4 2.2l.4 1.7l.5 1.3l.4 1l.4 .8l.4 .6l.4 .5l.5 .5l.4 .3l.4 .3l.4 .3l.4 .3l.5 .2l1.6 .8l1.7 .6l1.7 .6l1.7 .5l1.6 .4l1.7 .4l1.7 .3l1.7 .3l1.7 .3l1.6 .2l1.7 .2l1.7 .2l1.7 .2l1.6 .1l1.7 .1l8.4 .5l8.4 .2l8.4 .1l5.1 0M349.6 431.9l2 .1l2 .2l2 .1l2 .3l2 .3l2.1 .4l2 .6l2 .8l2 1l2 1.6l.8 .9l.4 .5l.4 .6l.5 .7l.4 .7l.4 .9l.4 1l.4 1.2l.5 1.4l.4 1.5l.4 1.9l.4 2.1l.4 2.5l.5 2.8l.4 3.2l.4 3.6l.4 3.9l.4 4.3l.5 4.6l.4 4.7l.4 4.7l.4 4.5l.4 4.4l.5 4.3l.4 4l.4 3.6l.4 3.3l.4 3l.4 2.5l.5 2.2l.4 1.9l.4 1.7l.4 1.4l.4 1.2l.5 1l.4 .9l.4 .7l.4 .7l.4 .6l.5 .5l.4 .4l1.7 1.5l1.6 1l1.7 .8l1.7 .6l1.7 .6l1.6 .4l1.7 .4l1.7 .3l1.7 .3l1.7 .2l1.6 .2l1.7 .1l1.7 .2l1.7 .1l1.6 .1l8.4 .2l8.4 .2l8.4 0l4.3 0M370.5 432.0l.5 .1l.4 .1l.4 .2l.4 .3l.4 .3l.5 .5l.4 .6l.4 .8l.4 1l.4 1.3l.4 1.6l.5 2.2l.4 2.6l.4 3.4l.4 4.1l.4 4.8l.5 5.7l.4 6.5l.4 7.1l.4 7.6l.4 5.2l.5 5l.4 4.7l.4 4.3l.4 3.9l.4 3.4l.5 2.8l.4 2.5l.4 2l.4 1.7l.4 1.5l.5 1.1l.4 1l.4 .9l.4 .7l.4 .7l.5 .5l.4 .5l.4 .4l.4 .4l1.7 1.4l1.7 1l1.6 .9l1.7 .8l1.7 .6l1.7 .6l1.7 .5l1.6 .5l1.7 .4l1.7 .3l1.7 .3l1.6 .3l1.7 .2l1.7 .2l1.7 .2l8.4 .6l8.3 .3l8.4 .2l4.3 0M371.5 431.9l.4 .1l.5 .1l.4 .1l.4 .1l.4 .2l.4 .2l.5 .2l.4 .3l.4 .4l.4 .5l.4 .6l.5 .7l.4 1l.4 1.3l.4 2l.4 3l.4 5.1l.5 8.9l.4 14.2l.4 18.3l.4 15.9l.4 11.3l.5 6.3l.4 3.1l.4 1.5l.4 .9l.4 .5l.5 .3l.4 .4l.4 .2l.4 .3l.4 .3l.5 .2l.4 .2l.4 .3l.4 .2l.4 .2l.5 .2l.4 .2l.4 .1l1.7 .7l1.6 .6l1.7 .4l1.7 .4l1.7 .4l1.7 .3l1.6 .2l1.7 .3l1.7 .1l1.7 .2l1.6 .1l1.7 .2l1.7 .1l1.7 0l1.7 .1l8.3 .2l8.4 .1l8.4 .1l3.3 0M371.6 431.8l.4 .1l.4 .1l.5 .1l.4 0l.4 .2l.4 .1l.4 .2l.5 .2l.4 .3l.4 .3l.4 .4l.4 .5l.5 .6l.4 .8l.4 1.2l.4 1.9l.4 3.4l.5 6.7l.4 12.3l.4 17.6l.4 16.6l.4 11.4l.5 6l.4 3l.4 1.7l.4 1.1l.4 .9l.4 .8l.5 .7l.4 .7l.4 .6l.4 .6l.4 .6l.5 .5l.4 .5l.4 .5l.4 .5l.4 .4l.5 .5l.4 .4l1.7 1.4l1.6 1.1l1.7 .9l1.7 .8l1.7 .6l1.6 .5l1.7 .4l1.7 .4l1.7 .2l1.7 .3l1.6 .2l1.7 .1l1.7 .1l1.7 .1l1.6 .1l8.4 .2l8.4 .1l8.4 0l3.2 0M371.9 431.6l.4 0l.4 .1l.4 0l.5 0l.4 0l.4 .1l.4 0l.4 .1l.5 .1l.4 .2l.4 .2l.4 .4l.4 .6l.5 .9l.4 1.5l.4 2.8l.4 4.8l.4 8.1l.5 12l.4 14.8l.4 14.3l.4 11.7l.4 8.1l.5 5l.4 3.2l.4 2.1l.4 1.4l.4 1.2l.5 .9l.4 .9l.4 .7l.4 .7l.4 .6l.4 .6l.5 .5l.4 .5l.4 .4l.4 .5l.4 .4l.5 .3l1.6 1.2l1.7 .9l1.7 .7l1.7 .5l1.7 .3l1.6 .3l1.7 .2l1.7 .1l1.7 .2l1.6 0l1.7 .1l1.7 0l1.7 .1l1.7 0l1.6 0l8.4 .1l8.4 0l8.4 0l2.9 0M369.2 431.9l2 .2l1.9 .4l.4 .1l.4 .1l.4 .2l.4 .1l.5 .2l.4 .2l.4 .2l.4 .2l.4 .3l.5 .3l.4 .3l.4 .3l.4 .5l.4 .4l.5 .7l.4 1l.4 1.9l.4 4.8l.4 11.3l.5 19.6l.4 19.6l.4 11.3l.4 4.9l.4 2.2l.5 1.1l.4 .9l.4 .7l.4 .7l.4 .7l.5 .6l.4 .6l.4 .6l.4 .5l.4 .5l.4 .5l.5 .5l.4 .5l.4 .4l.4 .5l.4 .4l1.7 1.5l1.7 1.3l1.7 1.1l1.7 .9l1.6 .8l1.7 .7l1.7 .6l1.7 .5l1.6 .4l1.7 .4l1.7 .3l1.7 .2l1.7 .3l1.6 .2l1.7 .1l8.4 .5l8.4 .3l8.4 .1l1.7 0M356.1 431.9l2 .1l2 .2l2 .2l2 .3l2 .4l2 .6l2 .8l2.1 1.1l1.1 .8l.4 .4l.5 .4l.4 .4l.4 .5l.4 .6l.4 .7l.5 .8l.4 .9l.4 1.1l.4 1.4l.4 1.6l.5 1.9l.4 2.4l.4 2.9l.4 3.5l.4 4.1l.5 4.6l.4 5.2l.4 5.5l.4 5.7l.4 5.4l.5 5.2l.4 4.8l.4 4.3l.4 3.7l.4 3.2l.5 2.6l.4 2.2l.4 1.7l.4 1.5l.4 1.2l.4 .9l.5 .9l.4 .7l.4 .6l.4 .6l.4 .5l.5 .5l.4 .4l.4 .4l1.7 1.4l1.7 1.2l1.6 1l1.7 1l1.7 .8l1.7 .8l1.6 .6l1.7 .6l1.7 .6l1.7 .5l1.7 .4l1.6 .4l1.7 .3l1.7 .4l1.7 .2l8.4 1.1l8.3 .5l8.4 .4l1.5 0M372.4 431.9l1.5 .3l.4 .1l.4 .1l.4 .1l.4 .1l.5 .2l.4 .2l.4 .3l.4 .3l.4 .3l.5 .5l.4 .5l.4 .7l.4 .9l.4 1.3l.5 2.1l.4 3.4l.4 5.5l.4 8.9l.4 12.8l.5 15.5l.4 14.6l.4 11.6l.4 7.7l.4 4.6l.5 2.5l.4 1.5l.4 .8l.4 .6l.4 .4l.5 .3l.4 .3l.4 .3l.4 .2l.4 .2l.4 .2l.5 .2l.4 .2l.4 .2l.4 .2l.4 .1l1.7 .6l1.7 .5l1.7 .4l1.7 .4l1.6 .3l1.7 .2l1.7 .3l1.7 .1l1.6 .2l1.7 .1l1.7 .1l1.7 .1l1.7 .1l1.6 0l1.7 .1l8.4 .1l8.4 .1l8.4 0l.9 0M368.5 431.9l2 .2l2 .4l2 .7l.6 .2l.4 .2l.4 .2l.4 .3l.4 .3l.5 .3l.4 .4l.4 .4l.4 .5l.4 .5l.5 .5l.4 .7l.4 .7l.4 .8l.4 .9l.5 1.2l.4 1.7l.4 2.9l.4 6l.4 12l.4 18.6l.5 18.3l.4 11.7l.4 5.8l.4 2.8l.4 1.7l.5 1.2l.4 1l.4 .8l.4 .8l.4 .8l.5 .7l.4 .6l.4 .6l.4 .6l.4 .5l.5 .5l.4 .5l.4 .4l.4 .4l.4 .4l1.7 1.3l1.7 .9l1.7 .7l1.6 .6l1.7 .4l1.7 .3l1.7 .3l1.7 .2l1.6 .1l1.7 .1l1.7 .1l1.7 0l1.6 .1l1.7 0l1.7 .1l8.4 0l8.4 0l8.1 0M375.3 431.8l.5 0l.4 .1l.4 0l.4 .1l.4 .2l.5 .2l.4 .2l.4 .4l.4 .5l.4 .7l.4 1l.5 1.3l.4 2l.4 2.7l.4 3.6l.4 4.9l.5 6.3l.4 7.6l.4 8.8l.4 9.3l.4 8.7l.5 8.1l.4 7l.4 5.7l.4 4.5l.4 3.3l.5 2.5l.4 1.9l.4 1.3l.4 1l.4 .8l.5 .6l.4 .5l.4 .4l.4 .3l.4 .3l.5 .3l.4 .3l.4 .2l.4 .2l1.7 .8l1.7 .6l1.6 .6l1.7 .5l1.7 .4l1.7 .3l1.7 .3l1.6 .3l1.7 .2l1.7 .2l1.7 .1l1.6 .2l1.7 .1l1.7 .1l1.7 .1l8.4 .3l8.3 .1l7.9 .1M373.9 431.9l1.5 .2l.4 .1l.4 .1l.5 .1l.4 .1l.4 .1l.4 .2l.4 .2l.4 .2l.5 .2l.4 .3l.4 .3l.4 .3l.4 .5l.5 .5l.4 .9l.4 1.5l.4 3l.4 6.6l.5 13l.4 19.4l.4 19.4l.4 13l.4 6.6l.5 3.2l.4 1.6l.4 1l.4 .8l.4 .7l.5 .7l.4 .5l.4 .6l.4 .5l.4 .5l.5 .5l.4 .4l.4 .4l.4 .4l.4 .4l.4 .4l.5 .3l1.6 1.2l1.7 1l1.7 .8l1.7 .7l1.7 .5l1.6 .5l1.7 .3l1.7 .3l1.7 .2l1.6 .2l1.7 .2l1.7 .1l1.7 .1l1.7 .1l1.6 .1l8.4 .2l8.4 0l7.8 0M376.6 431.6l.4 .1l.4 0l.5 0l.4 0l.4 .1l.4 0l.4 .1l.5 .1l.4 .2l.4 .2l.4 .3l.4 .5l.5 .8l.4 1.3l.4 2.1l.4 3.5l.4 5.5l.5 8.1l.4 11.1l.4 12.7l.4 11.9l.4 10l.5 7.4l.4 5l.4 3.1l.4 2l.4 1.3l.5 1l.4 .7l.4 .6l.4 .5l.4 .4l.5 .4l.4 .4l.4 .4l.4 .4l.4 .3l.4 .3l.5 .4l.4 .3l1.7 1.1l1.6 1l1.7 .8l1.7 .7l1.7 .6l1.7 .6l1.6 .4l1.7 .4l1.7 .4l1.7 .3l1.6 .2l1.7 .3l1.7 .2l1.7 .1l1.6 .2l8.4 .4l8.4 .2l6.6 .1M354.6 431.9l2 .1l2.1 .1l2 .2l2 .2l2 .3l2 .3l2 .5l2 .5l2 .8l2.1 1l2 1.2l1 .8l.4 .3l.4 .4l.4 .4l.5 .4l.4 .4l.4 .5l.4 .5l.4 .5l.5 .5l.4 .6l.4 .6l.4 .7l.4 .8l.4 .9l.5 1.4l.4 2.2l.4 3.8l.4 7l.4 11.4l.5 15.3l.4 14.9l.4 11.1l.4 6.6l.4 3.4l.5 1.9l.4 1l.4 .7l.4 .5l.4 .5l.5 .4l.4 .3l.4 .4l.4 .3l.4 .3l.5 .3l.4 .3l.4 .3l.4 .2l.4 .3l.5 .2l1.6 .8l1.7 .7l1.7 .6l1.7 .5l1.6 .4l1.7 .4l1.7 .3l1.7 .2l1.6 .2l1.7 .2l1.7 .1l1.7 .1l1.7 .1l1.6 .1l1.7 .1l8.4 .2l8.4 0l5.4 .1M376.4 431.9l1.9 .3l.4 .1l.4 .1l.5 .2l.4 .1l.4 .2l.4 .2l.4 .2l.5 .3l.4 .3l.4 .4l.4 .4l.4 .6l.5 .6l.4 .8l.4 1.1l.4 1.8l.4 3.5l.4 7.1l.5 13.3l.4 19.5l.4 18.9l.4 12.6l.4 6.4l.5 3l.4 1.5l.4 .9l.4 .7l.4 .5l.5 .5l.4 .5l.4 .4l.4 .4l.4 .4l.5 .3l.4 .4l.4 .3l.4 .3l.4 .3l.5 .3l.4 .2l1.7 .9l1.6 .7l1.7 .6l1.7 .5l1.7 .4l1.6 .3l1.7 .2l1.7 .2l1.7 .2l1.6 .1l1.7 .1l1.7 .1l1.7 0l1.7 .1l1.6 0l8.4 .1l8.4 .1l4.9 0M366.4 431.9l2 .2l2 .2l2 .3l2 .4l2 .7l2 .9l.3 .1l.4 .3l.4 .2l.4 .3l.5 .3l.4 .4l.4 .3l.4 .4l.4 .5l.5 .4l.4 .6l.4 .5l.4 .6l.4 .8l.4 .9l.5 1.4l.4 2.1l.4 3.9l.4 6.9l.4 11.3l.5 15.2l.4 14.7l.4 10.9l.4 6.4l.4 3.4l.5 1.8l.4 1.1l.4 .7l.4 .5l.4 .5l.5 .4l.4 .4l.4 .4l.4 .4l.4 .3l.5 .4l.4 .3l.4 .3l.4 .3l.4 .3l.5 .3l1.6 1.1l1.7 .9l1.7 .9l1.7 .7l1.6 .7l1.7 .5l1.7 .5l1.7 .4l1.7 .4l1.6 .4l1.7 .3l1.7 .2l1.7 .2l1.6 .2l1.7 .2l8.4 .6l8.4 .3l4.5 .1M378.9 431.8l.4 .1l.4 0l.4 .1l.5 .1l.4 .1l.4 .2l.4 .2l.4 .2l.5 .2l.4 .4l.4 .4l.4 .5l.4 .6l.4 .8l.5 1.1l.4 1.5l.4 2.8l.4 5.9l.4 12.8l.5 21.2l.4 19.9l.4 11.3l.4 4.7l.4 2l.5 1.1l.4 .8l.4 .6l.4 .6l.4 .6l.5 .5l.4 .5l.4 .5l.4 .4l.4 .5l.5 .4l.4 .4l.4 .3l.4 .4l.4 .3l.5 .4l1.6 1.1l1.7 .9l1.7 .7l1.7 .7l1.6 .5l1.7 .4l1.7 .3l1.7 .3l1.7 .2l1.6 .2l1.7 .1l1.7 .2l1.7 .1l1.6 0l1.7 .1l8.4 .2l8.4 .1l4.3 0M381.1 432.2l.4 .2l.5 .2l.4 .3l.4 .4l.4 .4l.4 .6l.5 .7l.4 .9l.4 1.2l.4 1.4l.4 1.8l.5 2.3l.4 2.7l.4 3.3l.4 3.9l.4 4.4l.5 5.1l.4 5.5l.4 5.9l.4 6l.4 5.8l.4 5.6l.5 5.4l.4 4.9l.4 4.4l.4 3.9l.4 3.4l.5 2.9l.4 2.4l.4 2l.4 1.7l.4 1.4l.5 1.2l.4 1.1l.4 .8l.4 .8l.4 .6l.5 .6l.4 .5l.4 .4l1.7 1.4l1.7 1.1l1.6 .8l1.7 .7l1.7 .5l1.7 .5l1.6 .4l1.7 .3l1.7 .3l1.7 .2l1.7 .2l1.6 .1l1.7 .2l1.7 .1l1.7 .1l8.3 .2l8.4 .2l2.1 0M379.3 432.0l2 .5l.2 .1l.4 .2l.4 .3l.4 .3l.4 .4l.5 .5l.4 .6l.4 .7l.4 1l.4 1.1l.5 1.5l.4 1.8l.4 2.2l.4 2.7l.4 3.2l.4 3.8l.5 4.3l.4 4.9l.4 5.4l.4 5.6l.4 5.6l.5 4.8l.4 4.7l.4 4.5l.4 4l.4 3.7l.5 3.2l.4 2.8l.4 2.3l.4 2l.4 1.7l.5 1.4l.4 1.2l.4 1l.4 .9l.4 .8l.5 .7l.4 .7l.4 .6l.4 .5l.4 .5l1.7 1.7l1.7 1.5l1.7 1.3l1.6 1.1l1.7 1l1.7 .9l1.7 .9l1.7 .7l1.6 .7l1.7 .6l1.7 .5l1.7 .5l1.6 .5l1.7 .4l1.7 .3l8.4 1.3l8.4 .8l1.7 .1M381.7 431.8l.4 0l.4 0l.4 .1l.5 .1l.4 0l.4 .1l.4 .2l.4 .1l.5 .2l.4 .3l.4 .3l.4 .6l.4 .8l.5 1.2l.4 2.1l.4 3.5l.4 5.7l.4 8.8l.5 12.3l.4 14.5l.4 14.2l.4 11.8l.4 8.4l.5 5.5l.4 3.3l.4 2l.4 1.3l.4 .8l.5 .6l.4 .4l.4 .4l.4 .3l.4 .2l.4 .2l.5 .3l.4 .1l.4 .2l.4 .2l.4 .1l.5 .1l1.6 .4l1.7 .3l1.7 .2l1.7 .1l1.7 .1l1.6 .1l1.7 0l1.7 .1l1.7 0l1.6 0l1.7 0l1.7 0l1.7 0l1.7 0l1.6 0l8.4 0l8.4 0l1.5 0M382.5 431.6l.4 0l.4 0l.5 0l.4 0l.4 .1l.4 0l.4 0l.5 .1l.4 .1l.4 .2l.4 .3l.4 .5l.5 .7l.4 1.3l.4 2.2l.4 3.8l.4 6.1l.5 9.5l.4 13.1l.4 15.2l.4 11.6l.4 9.5l.4 6.6l.5 4.2l.4 2.6l.4 1.5l.4 1l.4 .7l.5 .6l.4 .5l.4 .4l.4 .4l.4 .4l.5 .3l.4 .4l.4 .3l.4 .3l.4 .3l.5 .4l.4 .3l1.7 1.1l1.6 1l1.7 .8l1.7 .8l1.7 .8l1.6 .6l1.7 .6l1.7 .5l1.7 .4l1.7 .4l1.6 .4l1.7 .3l1.7 .3l1.7 .3l1.6 .2l8.4 .9l8.4 .5l.7 0M380.4 431.9l2 .5l.6 .2l.4 .2l.5 .3l.4 .3l.4 .4l.4 .5l.4 .6l.5 .8l.4 .9l.4 1.2l.4 1.6l.4 1.9l.5 2.4l.4 3l.4 3.6l.4 4.4l.4 5.2l.4 6l.5 6.6l.4 7l.4 7l.4 5.9l.4 5.7l.5 5.4l.4 4.8l.4 4.1l.4 3.5l.4 2.9l.5 2.4l.4 2l.4 1.6l.4 1.3l.4 1l.5 .9l.4 .7l.4 .6l.4 .6l.4 .4l.5 .4l.4 .4l.4 .3l1.7 1l1.6 .7l1.7 .5l1.7 .3l1.7 .3l1.7 .3l1.6 .1l1.7 .1l1.7 .1l1.7 .1l1.6 .1l1.7 0l1.7 0l1.7 .1l1.7 0l8.3 0l8.4 0l.2 0M383.0 431.8l.4 .1l.5 0l.4 .1l.4 .1l.4 .1l.4 .1l.5 .1l.4 .2l.4 .2l.4 .2l.4 .3l.5 .4l.4 .5l.4 .6l.4 .9l.4 1.6l.5 3l.4 6.5l.4 12.8l.4 19.3l.4 18.5l.4 11.8l.5 5.7l.4 2.4l.4 1.2l.4 .6l.4 .5l.5 .4l.4 .4l.4 .3l.4 .3l.4 .4l.5 .3l.4 .3l.4 .3l.4 .3l.4 .3l.5 .3l.4 .3l.4 .2l1.7 1l1.7 1l1.6 .8l1.7 .7l1.7 .7l1.7 .6l1.6 .6l1.7 .5l1.7 .4l1.7 .4l1.7 .4l1.6 .3l1.7 .3l1.7 .3l1.7 .3l8.3 .9l8.4 .6l.2 0M379.7 431.9l2 .2l2.1 .3l1.4 .4l.4 .1l.4 .1l.4 .2l.4 .2l.5 .1l.4 .2l.4 .3l.4 .2l.4 .3l.5 .3l.4 .4l.4 .3l.4 .5l.4 .6l.4 .8l.5 1.3l.4 2.8l.4 6.2l.4 12.7l.4 19.6l.5 19.5l.4 12.6l.4 6.1l.4 2.8l.4 1.3l.5 .9l.4 .6l.4 .5l.4 .5l.4 .5l.5 .5l.4 .4l.4 .4l.4 .4l.4 .4l.5 .4l.4 .4l.4 .3l.4 .3l.4 .4l1.7 1.1l1.7 1l1.7 .9l1.6 .7l1.7 .7l1.7 .5l1.7 .5l1.7 .4l1.6 .3l1.7 .3l1.7 .3l1.7 .2l1.6 .2l1.7 .1l1.7 .2l8.4 .4l6.4 .2M309.0 431.6H386.4"/>
<rect x="292.6" y="418.4" width="167.4" height="133.4" fill="none" stroke="#000" stroke-width="1.9"/>
<text x="309" y="563.8" font-size="10.6" text-anchor="middle">0</text>
<text x="342.55" y="563.8" font-size="10.6" text-anchor="middle">1</text>
<text x="376.1" y="563.8" font-size="10.6" text-anchor="middle">2</text>
<text x="409.65" y="563.8" font-size="10.6" text-anchor="middle">3</text>
<text x="443.2" y="563.8" font-size="10.6" text-anchor="middle">4</text>
<path d="M309 551.8 v-3 M325.77 551.8 v-1.8 M342.55 551.8 v-3 M359.32 551.8 v-1.8 M376.1 551.8 v-3 M392.88 551.8 v-1.8 M409.65 551.8 v-3 M426.42 551.8 v-1.8 M443.2 551.8 v-3 M292.6 431.6 h3 M292.6 538.7 h3" stroke="#000" stroke-width="1.3" fill="none"/>
<text x="289.1" y="435.5" font-size="11.2" text-anchor="end">4</text>
<text x="289.1" y="542.6" font-size="11.2" text-anchor="end">0</text>
<text x="269.8" y="406.3" font-size="12.5">h</text>
<text x="377.2" y="579.8" font-size="12.6" text-anchor="middle" textLength="38.6" lengthAdjust="spacingAndGlyphs">V<tspan font-size="8.5" dy="2.8">in</tspan><tspan dy="-2.8"> (V)</tspan></text>
<text transform="translate(278.1 489.6) rotate(-90)" font-size="12" text-anchor="middle" textLength="37.6" lengthAdjust="spacingAndGlyphs">V<tspan font-size="7.5" dy="2.4">out</tspan><tspan dy="-2.4"> (V)</tspan></text>
<rect x="570.89" y="138.04" width="8.49" height="18.56" fill="url(#hb)" stroke="#6674E6" stroke-width="1.3"/>
<rect x="579.38" y="73.08" width="8.49" height="83.52" fill="url(#hb)" stroke="#6674E6" stroke-width="1.3"/>
<rect x="587.87" y="45.24" width="8.49" height="111.36" fill="url(#hb)" stroke="#6674E6" stroke-width="1.3"/>
<rect x="596.35" y="73.08" width="8.49" height="83.52" fill="url(#hb)" stroke="#6674E6" stroke-width="1.3"/>
<rect x="604.84" y="54.52" width="8.49" height="102.08" fill="url(#hb)" stroke="#6674E6" stroke-width="1.3"/>
<rect x="613.32" y="100.92" width="8.49" height="55.68" fill="url(#hb)" stroke="#6674E6" stroke-width="1.3"/>
<rect x="621.81" y="147.32" width="8.49" height="9.28" fill="url(#hb)" stroke="#6674E6" stroke-width="1.3"/>
<path d="M553.5 156.4 L554.0 156.4 L554.5 156.3 L555.1 156.3 L555.6 156.2 L556.2 156.2 L556.7 156.1 L557.2 156.0 L557.8 156.0 L558.3 155.9 L558.8 155.8 L559.4 155.6 L559.9 155.5 L560.4 155.4 L561.0 155.2 L561.5 155.0 L562.0 154.8 L562.6 154.6 L563.1 154.3 L563.7 154.0 L564.2 153.7 L564.7 153.4 L565.3 153.0 L565.8 152.6 L566.3 152.1 L566.9 151.6 L567.4 151.1 L567.9 150.5 L568.5 149.8 L569.0 149.1 L569.5 148.3 L570.1 147.5 L570.6 146.6 L571.2 145.6 L571.7 144.6 L572.2 143.5 L572.8 142.3 L573.3 141.0 L573.8 139.6 L574.4 138.2 L574.9 136.6 L575.4 135.0 L576.0 133.2 L576.5 131.4 L577.0 129.5 L577.6 127.5 L578.1 125.4 L578.7 123.2 L579.2 120.9 L579.7 118.5 L580.3 116.0 L580.8 113.4 L581.3 110.8 L581.9 108.1 L582.4 105.3 L582.9 102.4 L583.5 99.5 L584.0 96.5 L584.5 93.5 L585.1 90.4 L585.6 87.3 L586.1 84.2 L586.7 81.1 L587.2 78.0 L587.8 74.9 L588.3 71.9 L588.8 68.9 L589.4 65.9 L589.9 63.0 L590.4 60.2 L591.0 57.4 L591.5 54.8 L592.0 52.2 L592.6 49.8 L593.1 47.6 L593.6 45.4 L594.2 43.5 L594.7 41.7 L595.3 40.0 L595.8 38.6 L596.3 37.4 L596.9 36.3 L597.4 35.4 L597.9 34.8 L598.5 34.4 L599.0 34.1 L599.5 34.1 L600.1 34.3 L600.6 34.7 L601.1 35.4 L601.7 36.2 L602.2 37.2 L602.8 38.5 L603.3 39.9 L603.8 41.5 L604.4 43.3 L604.9 45.3 L605.4 47.4 L606.0 49.6 L606.5 52.0 L607.0 54.5 L607.6 57.2 L608.1 59.9 L608.6 62.7 L609.2 65.6 L609.7 68.6 L610.3 71.6 L610.8 74.7 L611.3 77.8 L611.9 80.9 L612.4 84.0 L612.9 87.1 L613.5 90.1 L614.0 93.2 L614.5 96.2 L615.1 99.2 L615.6 102.1 L616.1 105.0 L616.7 107.8 L617.2 110.5 L617.8 113.2 L618.3 115.8 L618.8 118.2 L619.4 120.6 L619.9 123.0 L620.4 125.2 L621.0 127.3 L621.5 129.3 L622.0 131.2 L622.6 133.1 L623.1 134.8 L623.6 136.5 L624.2 138.0 L624.7 139.5 L625.2 140.9 L625.8 142.1 L626.3 143.4 L626.9 144.5 L627.4 145.5 L627.9 146.5 L628.5 147.4 L629.0 148.3 L629.5 149.0 L630.1 149.8 L630.6 150.4 L631.1 151.0 L631.7 151.6 L632.2 152.1 L632.7 152.5 L633.3 153.0 L633.8 153.4 L634.4 153.7 L634.9 154.0 L635.4 154.3 L636.0 154.6 L636.5 154.8 L637.0 155.0 L637.6 155.2 L638.1 155.4 L638.6 155.5 L639.2 155.6" fill="none" stroke="#000" stroke-width="1.55" stroke-dasharray="7.4 7.8" stroke-dashoffset="10.39"/>
<rect x="511.9" y="17.4" width="169.7" height="139.2" fill="none" stroke="#000" stroke-width="1.3"/>
<text x="511.9" y="167.8" font-size="10" text-anchor="middle">0</text>
<text x="554.33" y="167.8" font-size="10" text-anchor="middle">1</text>
<text x="596.75" y="167.8" font-size="10" text-anchor="middle">2</text>
<text x="639.17" y="167.8" font-size="10" text-anchor="middle">3</text>
<text x="681.6" y="167.8" font-size="10" text-anchor="middle">4</text>
<text x="509.7" y="159.6" font-size="10" text-anchor="end">0</text>
<text x="509.7" y="132.16" font-size="10" text-anchor="end">6</text>
<text x="509.7" y="104.32" font-size="10" text-anchor="end">12</text>
<text x="509.7" y="76.48" font-size="10" text-anchor="end">18</text>
<text x="509.7" y="48.64" font-size="10" text-anchor="end">24</text>
<text x="509.7" y="20.8" font-size="10" text-anchor="end">30</text>
<path d="M533.11 156.6 v-1.2 M554.33 156.6 v-2 M575.54 156.6 v-1.2 M596.75 156.6 v-2 M617.96 156.6 v-1.2 M639.17 156.6 v-2 M660.39 156.6 v-1.2 M511.9 142.68 h1.2 M511.9 128.76 h2 M511.9 114.84 h1.2 M511.9 100.92 h2 M511.9 87 h1.2 M511.9 73.08 h2 M511.9 59.16 h1.2 M511.9 45.24 h2 M511.9 31.32 h1.2 " stroke="#000" stroke-width="1.1" fill="none"/>
<text x="605.8" y="33.4" font-size="10.4" textLength="65.2" lengthAdjust="spacingAndGlyphs">Avg: 2.065V</text>
<text x="479.3" y="10.4" font-size="12.5">c</text>
<text x="595.35" y="179.2" font-size="12.4" text-anchor="middle" textLength="38" lengthAdjust="spacingAndGlyphs">V<tspan font-size="7.6" dy="2.5">M</tspan><tspan dy="-2.5"> (V)</tspan></text>
<text transform="translate(482.1 79.5) rotate(-90)" font-size="11" text-anchor="middle" textLength="80" lengthAdjust="spacingAndGlyphs">Percentage(%)</text>
<rect x="562.44" y="338.04" width="8.49" height="18.56" fill="url(#hb)" stroke="#6674E6" stroke-width="1.3"/>
<rect x="570.93" y="291.64" width="8.49" height="64.96" fill="url(#hb)" stroke="#6674E6" stroke-width="1.3"/>
<rect x="579.42" y="245.24" width="8.49" height="111.36" fill="url(#hb)" stroke="#6674E6" stroke-width="1.3"/>
<rect x="587.91" y="273.08" width="8.49" height="83.52" fill="url(#hb)" stroke="#6674E6" stroke-width="1.3"/>
<rect x="596.4" y="245.24" width="8.49" height="111.36" fill="url(#hb)" stroke="#6674E6" stroke-width="1.3"/>
<rect x="604.89" y="300.92" width="8.49" height="55.68" fill="url(#hb)" stroke="#6674E6" stroke-width="1.3"/>
<rect x="613.38" y="338.04" width="8.49" height="18.56" fill="url(#hb)" stroke="#6674E6" stroke-width="1.3"/>
<path d="M550.1 355.7 L550.6 355.6 L551.2 355.4 L551.7 355.3 L552.2 355.1 L552.7 354.9 L553.2 354.7 L553.8 354.5 L554.3 354.3 L554.8 354.0 L555.3 353.7 L555.9 353.4 L556.4 353.0 L556.9 352.7 L557.4 352.2 L557.9 351.8 L558.5 351.3 L559.0 350.7 L559.5 350.2 L560.0 349.5 L560.6 348.8 L561.1 348.1 L561.6 347.3 L562.1 346.5 L562.6 345.5 L563.2 344.6 L563.7 343.5 L564.2 342.4 L564.7 341.2 L565.3 340.0 L565.8 338.6 L566.3 337.2 L566.8 335.7 L567.4 334.2 L567.9 332.5 L568.4 330.8 L568.9 329.0 L569.4 327.1 L570.0 325.1 L570.5 323.0 L571.0 320.9 L571.5 318.7 L572.1 316.4 L572.6 314.0 L573.1 311.6 L573.6 309.1 L574.1 306.5 L574.7 303.9 L575.2 301.2 L575.7 298.4 L576.2 295.7 L576.8 292.8 L577.3 290.0 L577.8 287.1 L578.3 284.3 L578.9 281.4 L579.4 278.5 L579.9 275.6 L580.4 272.8 L580.9 270.0 L581.5 267.2 L582.0 264.5 L582.5 261.8 L583.0 259.2 L583.6 256.7 L584.1 254.3 L584.6 252.0 L585.1 249.8 L585.6 247.7 L586.2 245.7 L586.7 243.9 L587.2 242.2 L587.7 240.7 L588.3 239.3 L588.8 238.1 L589.3 237.1 L589.8 236.2 L590.4 235.5 L590.9 235.0 L591.4 234.7 L591.9 234.6 L592.4 234.6 L593.0 234.9 L593.5 235.3 L594.0 235.9 L594.5 236.6 L595.1 237.6 L595.6 238.7 L596.1 240.0 L596.6 241.5 L597.1 243.1 L597.7 244.8 L598.2 246.7 L598.7 248.7 L599.2 250.9 L599.8 253.2 L600.3 255.5 L600.8 258.0 L601.3 260.5 L601.8 263.2 L602.4 265.9 L602.9 268.6 L603.4 271.4 L603.9 274.2 L604.5 277.1 L605.0 280.0 L605.5 282.8 L606.0 285.7 L606.6 288.6 L607.1 291.5 L607.6 294.3 L608.1 297.1 L608.6 299.8 L609.2 302.6 L609.7 305.2 L610.2 307.8 L610.7 310.4 L611.3 312.8 L611.8 315.2 L612.3 317.6 L612.8 319.8 L613.3 322.0 L613.9 324.1 L614.4 326.1 L614.9 328.1 L615.4 329.9 L616.0 331.7 L616.5 333.4 L617.0 335.0 L617.5 336.5 L618.1 338.0 L618.6 339.3 L619.1 340.6 L619.6 341.8 L620.1 343.0 L620.7 344.1 L621.2 345.1 L621.7 346.0 L622.2 346.9 L622.8 347.7 L623.3 348.5 L623.8 349.2 L624.3 349.9 L624.8 350.5 L625.4 351.0 L625.9 351.5 L626.4 352.0 L626.9 352.5 L627.5 352.9 L628.0 353.2 L628.5 353.6 L629.0 353.9 L629.6 354.2 L630.1 354.4 L630.6 354.6 L631.1 354.8 L631.6 355.0 L632.2 355.2 L632.7 355.4 L633.2 355.5 L633.7 355.6" fill="none" stroke="#000" stroke-width="1.55" stroke-dasharray="7.4 7.8" stroke-dashoffset="0.43"/>
<rect x="511.9" y="217.4" width="169.8" height="139.2" fill="none" stroke="#000" stroke-width="1.3"/>
<text x="511.9" y="367.8" font-size="10" text-anchor="middle">0</text>
<text x="554.35" y="367.8" font-size="10" text-anchor="middle">1</text>
<text x="596.8" y="367.8" font-size="10" text-anchor="middle">2</text>
<text x="639.25" y="367.8" font-size="10" text-anchor="middle">3</text>
<text x="681.7" y="367.8" font-size="10" text-anchor="middle">4</text>
<text x="509.7" y="359.6" font-size="10" text-anchor="end">0</text>
<text x="509.7" y="332.16" font-size="10" text-anchor="end">6</text>
<text x="509.7" y="304.32" font-size="10" text-anchor="end">12</text>
<text x="509.7" y="276.48" font-size="10" text-anchor="end">18</text>
<text x="509.7" y="248.64" font-size="10" text-anchor="end">24</text>
<text x="509.7" y="220.8" font-size="10" text-anchor="end">30</text>
<path d="M533.12 356.6 v-1.2 M554.35 356.6 v-2 M575.58 356.6 v-1.2 M596.8 356.6 v-2 M618.02 356.6 v-1.2 M639.25 356.6 v-2 M660.48 356.6 v-1.2 M511.9 342.68 h1.2 M511.9 328.76 h2 M511.9 314.84 h1.2 M511.9 300.92 h2 M511.9 287 h1.2 M511.9 273.08 h2 M511.9 259.16 h1.2 M511.9 245.24 h2 M511.9 231.32 h1.2 " stroke="#000" stroke-width="1.1" fill="none"/>
<text x="603.5" y="233.4" font-size="10.4" textLength="64.5" lengthAdjust="spacingAndGlyphs">Avg: 1.889V</text>
<text x="476.3" y="221.8" font-size="12.5">f</text>
<text x="595.4" y="379.2" font-size="12.4" text-anchor="middle" textLength="38" lengthAdjust="spacingAndGlyphs">V<tspan font-size="7.6" dy="2.5">M</tspan><tspan dy="-2.5"> (V)</tspan></text>
<text transform="translate(482.1 279.5) rotate(-90)" font-size="11" text-anchor="middle" textLength="80" lengthAdjust="spacingAndGlyphs">Percentage(%)</text>
<rect x="562.93" y="528.4" width="8.51" height="27.9" fill="url(#hb)" stroke="#6674E6" stroke-width="1.3"/>
<rect x="571.43" y="472.6" width="8.51" height="83.7" fill="url(#hb)" stroke="#6674E6" stroke-width="1.3"/>
<rect x="579.94" y="454" width="8.51" height="102.3" fill="url(#hb)" stroke="#6674E6" stroke-width="1.3"/>
<rect x="588.45" y="472.6" width="8.51" height="83.7" fill="url(#hb)" stroke="#6674E6" stroke-width="1.3"/>
<rect x="596.95" y="454" width="8.51" height="102.3" fill="url(#hb)" stroke="#6674E6" stroke-width="1.3"/>
<rect x="605.46" y="491.2" width="8.51" height="65.1" fill="url(#hb)" stroke="#6674E6" stroke-width="1.3"/>
<path d="M545.5 555.6 L546.0 555.5 L546.5 555.4 L547.1 555.3 L547.6 555.1 L548.2 555.0 L548.7 554.9 L549.2 554.7 L549.8 554.5 L550.3 554.3 L550.8 554.1 L551.4 553.8 L551.9 553.6 L552.4 553.3 L553.0 552.9 L553.5 552.6 L554.1 552.2 L554.6 551.8 L555.1 551.3 L555.7 550.9 L556.2 550.3 L556.7 549.8 L557.3 549.2 L557.8 548.5 L558.4 547.8 L558.9 547.0 L559.4 546.2 L560.0 545.4 L560.5 544.5 L561.0 543.5 L561.6 542.4 L562.1 541.3 L562.6 540.2 L563.2 538.9 L563.7 537.6 L564.3 536.3 L564.8 534.8 L565.3 533.3 L565.9 531.7 L566.4 530.1 L566.9 528.4 L567.5 526.6 L568.0 524.7 L568.6 522.8 L569.1 520.8 L569.6 518.7 L570.2 516.6 L570.7 514.4 L571.2 512.1 L571.8 509.8 L572.3 507.4 L572.9 505.0 L573.4 502.6 L573.9 500.1 L574.5 497.6 L575.0 495.0 L575.5 492.5 L576.1 489.9 L576.6 487.3 L577.1 484.7 L577.7 482.2 L578.2 479.6 L578.8 477.1 L579.3 474.6 L579.8 472.1 L580.4 469.7 L580.9 467.4 L581.4 465.1 L582.0 462.9 L582.5 460.7 L583.1 458.7 L583.6 456.8 L584.1 454.9 L584.7 453.2 L585.2 451.6 L585.7 450.1 L586.3 448.8 L586.8 447.6 L587.3 446.5 L587.9 445.6 L588.4 444.8 L589.0 444.2 L589.5 443.7 L590.0 443.5 L590.6 443.3 L591.1 443.3 L591.6 443.5 L592.2 443.9 L592.7 444.4 L593.3 445.0 L593.8 445.8 L594.3 446.8 L594.9 447.9 L595.4 449.1 L595.9 450.5 L596.5 452.0 L597.0 453.7 L597.5 455.4 L598.1 457.3 L598.6 459.3 L599.2 461.3 L599.7 463.5 L600.2 465.7 L600.8 468.0 L601.3 470.4 L601.8 472.8 L602.4 475.3 L602.9 477.8 L603.5 480.3 L604.0 482.9 L604.5 485.5 L605.1 488.0 L605.6 490.6 L606.1 493.2 L606.7 495.8 L607.2 498.3 L607.7 500.8 L608.3 503.3 L608.8 505.7 L609.4 508.1 L609.9 510.5 L610.4 512.8 L611.0 515.0 L611.5 517.2 L612.0 519.3 L612.6 521.3 L613.1 523.3 L613.7 525.2 L614.2 527.1 L614.7 528.9 L615.3 530.6 L615.8 532.2 L616.3 533.8 L616.9 535.2 L617.4 536.7 L617.9 538.0 L618.5 539.3 L619.0 540.5 L619.6 541.7 L620.1 542.7 L620.6 543.8 L621.2 544.7 L621.7 545.6 L622.2 546.5 L622.8 547.3 L623.3 548.0 L623.9 548.7 L624.4 549.3 L624.9 549.9 L625.5 550.5 L626.0 551.0 L626.5 551.5 L627.1 551.9 L627.6 552.3 L628.1 552.7 L628.7 553.0 L629.2 553.3 L629.8 553.6 L630.3 553.9 L630.8 554.1 L631.4 554.4" fill="none" stroke="#000" stroke-width="1.55" stroke-dasharray="7.4 7.8" stroke-dashoffset="0.27"/>
<rect x="512.3" y="416.8" width="170.1" height="139.5" fill="none" stroke="#000" stroke-width="1.3"/>
<text x="512.3" y="567.5" font-size="10" text-anchor="middle">0</text>
<text x="554.82" y="567.5" font-size="10" text-anchor="middle">1</text>
<text x="597.35" y="567.5" font-size="10" text-anchor="middle">2</text>
<text x="639.88" y="567.5" font-size="10" text-anchor="middle">3</text>
<text x="682.4" y="567.5" font-size="10" text-anchor="middle">4</text>
<text x="510.1" y="559.3" font-size="10" text-anchor="end">0</text>
<text x="510.1" y="531.8" font-size="10" text-anchor="end">6</text>
<text x="510.1" y="503.9" font-size="10" text-anchor="end">12</text>
<text x="510.1" y="476" font-size="10" text-anchor="end">18</text>
<text x="510.1" y="448.1" font-size="10" text-anchor="end">24</text>
<text x="510.1" y="420.2" font-size="10" text-anchor="end">30</text>
<path d="M533.56 556.3 v-1.2 M554.82 556.3 v-2 M576.09 556.3 v-1.2 M597.35 556.3 v-2 M618.61 556.3 v-1.2 M639.88 556.3 v-2 M661.14 556.3 v-1.2 M512.3 542.35 h1.2 M512.3 528.4 h2 M512.3 514.45 h1.2 M512.3 500.5 h2 M512.3 486.55 h1.2 M512.3 472.6 h2 M512.3 458.65 h1.2 M512.3 444.7 h2 M512.3 430.75 h1.2 " stroke="#000" stroke-width="1.1" fill="none"/>
<text x="604.2" y="433.7" font-size="10.4" textLength="64.1" lengthAdjust="spacingAndGlyphs">Avg: 1.817V</text>
<text x="480.1" y="405.2" font-size="12.5">i</text>
<text x="595.95" y="578.9" font-size="12.4" text-anchor="middle" textLength="38" lengthAdjust="spacingAndGlyphs">V<tspan font-size="7.6" dy="2.5">M</tspan><tspan dy="-2.5"> (V)</tspan></text>
<text transform="translate(482.5 479.05) rotate(-90)" font-size="11" text-anchor="middle" textLength="80" lengthAdjust="spacingAndGlyphs">Percentage(%)</text>
</svg>
</body>
</html>
